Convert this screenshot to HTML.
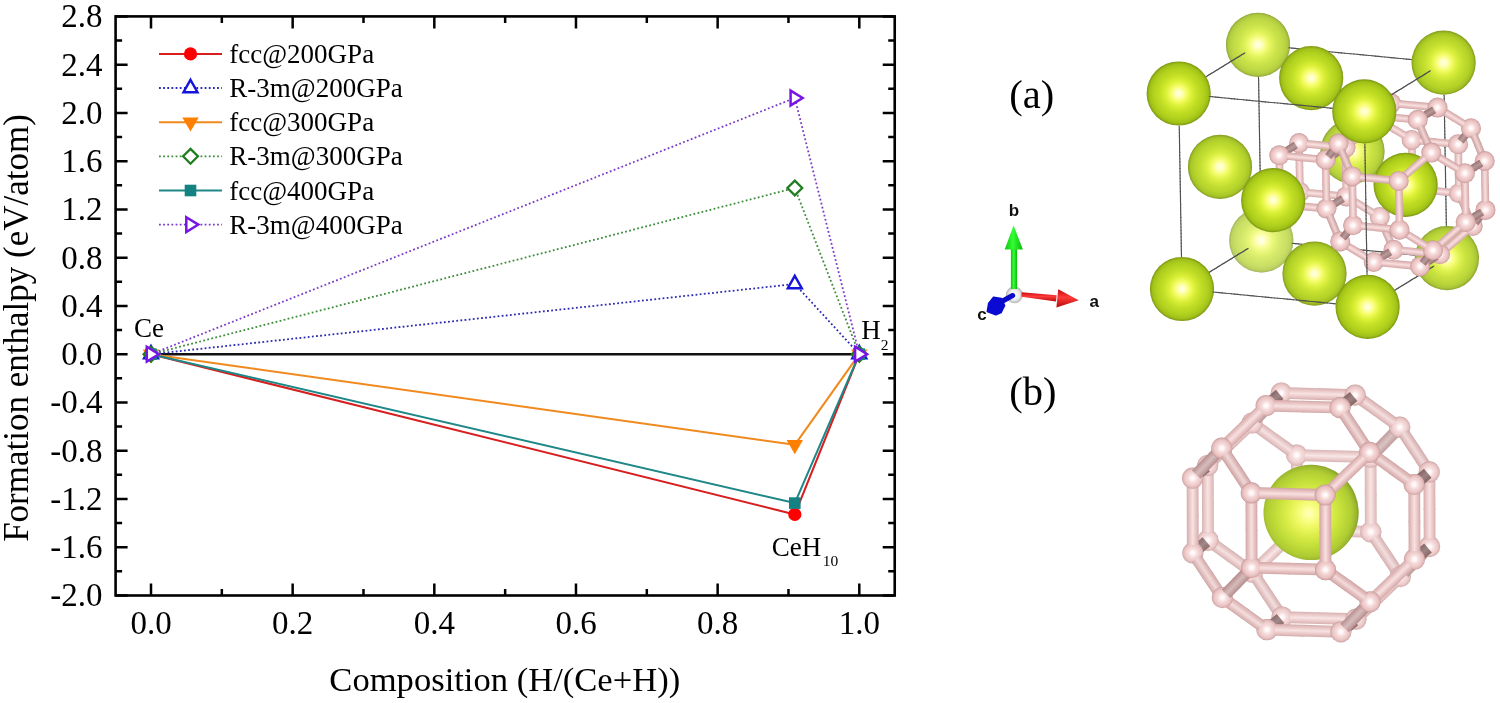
<!DOCTYPE html>
<html><head><meta charset="utf-8"><title>CeH10 formation enthalpy</title>
<style>html,body{margin:0;padding:0;background:#fff}svg{display:block}</style></head>
<body>
<svg width="1500" height="703" viewBox="0 0 1500 703">
<defs>
<radialGradient id="gCe" cx="50%" cy="50%" r="50%">
<stop offset="0" stop-color="#ffffea"/><stop offset="0.11" stop-color="#ffffb8"/><stop offset="0.24" stop-color="#f6fd66"/><stop offset="0.41" stop-color="#d9ef34"/>
<stop offset="0.6" stop-color="#c1de24"/><stop offset="0.8" stop-color="#b0d01c"/><stop offset="0.92" stop-color="#a0c018"/><stop offset="0.975" stop-color="#87a412"/><stop offset="1" stop-color="#7a9416"/>
</radialGradient>
<radialGradient id="gCeB" cx="48%" cy="51%" r="51%">
<stop offset="0" stop-color="#ffffbc"/><stop offset="0.12" stop-color="#fcff86"/><stop offset="0.3" stop-color="#ecf84e"/><stop offset="0.48" stop-color="#d6ea32"/>
<stop offset="0.68" stop-color="#bcdb22"/><stop offset="0.88" stop-color="#a6c61a"/><stop offset="0.97" stop-color="#8fae14"/><stop offset="1" stop-color="#7f9a14"/>
</radialGradient>
<radialGradient id="gH" cx="50%" cy="50%" r="50%">
<stop offset="0" stop-color="#ffffff"/><stop offset="0.18" stop-color="#fff6f6"/><stop offset="0.42" stop-color="#f6d8d8"/>
<stop offset="0.75" stop-color="#eac2c2"/><stop offset="0.9" stop-color="#dcaeae"/><stop offset="0.97" stop-color="#c99c9c"/><stop offset="1" stop-color="#bb9090"/>
</radialGradient>
<linearGradient id="gb0" x1="0" y1="0" x2="0" y2="1"><stop offset="0" stop-color="#977171"/><stop offset="0.12" stop-color="#a27d7d"/><stop offset="0.3" stop-color="#ad8a8a"/><stop offset="0.5" stop-color="#b59b9b"/><stop offset="0.7" stop-color="#ad8a8a"/><stop offset="0.88" stop-color="#a27d7d"/><stop offset="1" stop-color="#977171"/></linearGradient>
<linearGradient id="gb1" x1="0" y1="0" x2="0" y2="1"><stop offset="0" stop-color="#cfa2a2"/><stop offset="0.12" stop-color="#ddb3b3"/><stop offset="0.3" stop-color="#ecc8c8"/><stop offset="0.5" stop-color="#f8e0e0"/><stop offset="0.7" stop-color="#ecc8c8"/><stop offset="0.88" stop-color="#ddb3b3"/><stop offset="1" stop-color="#cfa2a2"/></linearGradient>
<linearGradient id="gb2" x1="0" y1="0" x2="0" y2="1"><stop offset="0" stop-color="#987171"/><stop offset="0.12" stop-color="#a27d7d"/><stop offset="0.3" stop-color="#ad8b8b"/><stop offset="0.5" stop-color="#b69c9c"/><stop offset="0.7" stop-color="#ad8b8b"/><stop offset="0.88" stop-color="#a27d7d"/><stop offset="1" stop-color="#987171"/></linearGradient>
<linearGradient id="gb3" x1="0" y1="0" x2="0" y2="1"><stop offset="0" stop-color="#d0a5a5"/><stop offset="0.12" stop-color="#deb5b5"/><stop offset="0.3" stop-color="#eccaca"/><stop offset="0.5" stop-color="#f8e1e1"/><stop offset="0.7" stop-color="#eccaca"/><stop offset="0.88" stop-color="#deb5b5"/><stop offset="1" stop-color="#d0a5a5"/></linearGradient>
<linearGradient id="gb4" x1="0" y1="0" x2="0" y2="1"><stop offset="0" stop-color="#d0a5a5"/><stop offset="0.12" stop-color="#deb5b5"/><stop offset="0.3" stop-color="#ecc9c9"/><stop offset="0.5" stop-color="#f8e1e1"/><stop offset="0.7" stop-color="#ecc9c9"/><stop offset="0.88" stop-color="#deb5b5"/><stop offset="1" stop-color="#d0a5a5"/></linearGradient>
<linearGradient id="gb5" x1="0" y1="0" x2="0" y2="1"><stop offset="0" stop-color="#d0a5a5"/><stop offset="0.12" stop-color="#deb6b6"/><stop offset="0.3" stop-color="#eccaca"/><stop offset="0.5" stop-color="#f8e1e1"/><stop offset="0.7" stop-color="#eccaca"/><stop offset="0.88" stop-color="#deb6b6"/><stop offset="1" stop-color="#d0a5a5"/></linearGradient>
<linearGradient id="gb6" x1="0" y1="0" x2="0" y2="1"><stop offset="0" stop-color="#987272"/><stop offset="0.12" stop-color="#a37e7e"/><stop offset="0.3" stop-color="#ae8b8b"/><stop offset="0.5" stop-color="#b59c9c"/><stop offset="0.7" stop-color="#ae8b8b"/><stop offset="0.88" stop-color="#a37e7e"/><stop offset="1" stop-color="#987272"/></linearGradient>
<linearGradient id="gb7" x1="0" y1="0" x2="0" y2="1"><stop offset="0" stop-color="#c79a9a"/><stop offset="0.12" stop-color="#d4aaaa"/><stop offset="0.3" stop-color="#e2bebe"/><stop offset="0.5" stop-color="#eed5d5"/><stop offset="0.7" stop-color="#e2bebe"/><stop offset="0.88" stop-color="#d4aaaa"/><stop offset="1" stop-color="#c79a9a"/></linearGradient>
<linearGradient id="gb8" x1="0" y1="0" x2="0" y2="1"><stop offset="0" stop-color="#cfa3a3"/><stop offset="0.12" stop-color="#ddb4b4"/><stop offset="0.3" stop-color="#ecc8c8"/><stop offset="0.5" stop-color="#f8e0e0"/><stop offset="0.7" stop-color="#ecc8c8"/><stop offset="0.88" stop-color="#ddb4b4"/><stop offset="1" stop-color="#cfa3a3"/></linearGradient>
<linearGradient id="gb9" x1="0" y1="0" x2="0" y2="1"><stop offset="0" stop-color="#d1a7a7"/><stop offset="0.12" stop-color="#deb7b7"/><stop offset="0.3" stop-color="#edcbcb"/><stop offset="0.5" stop-color="#f8e1e1"/><stop offset="0.7" stop-color="#edcbcb"/><stop offset="0.88" stop-color="#deb7b7"/><stop offset="1" stop-color="#d1a7a7"/></linearGradient>
<linearGradient id="gb10" x1="0" y1="0" x2="0" y2="1"><stop offset="0" stop-color="#9a7474"/><stop offset="0.12" stop-color="#a47f7f"/><stop offset="0.3" stop-color="#ae8d8d"/><stop offset="0.5" stop-color="#b79e9e"/><stop offset="0.7" stop-color="#ae8d8d"/><stop offset="0.88" stop-color="#a47f7f"/><stop offset="1" stop-color="#9a7474"/></linearGradient>
<linearGradient id="gb11" x1="0" y1="0" x2="0" y2="1"><stop offset="0" stop-color="#d1a6a6"/><stop offset="0.12" stop-color="#deb6b6"/><stop offset="0.3" stop-color="#eccaca"/><stop offset="0.5" stop-color="#f8e1e1"/><stop offset="0.7" stop-color="#eccaca"/><stop offset="0.88" stop-color="#deb6b6"/><stop offset="1" stop-color="#d1a6a6"/></linearGradient>
<linearGradient id="gb12" x1="0" y1="0" x2="0" y2="1"><stop offset="0" stop-color="#d2a8a8"/><stop offset="0.12" stop-color="#dfb8b8"/><stop offset="0.3" stop-color="#edcbcb"/><stop offset="0.5" stop-color="#f8e2e2"/><stop offset="0.7" stop-color="#edcbcb"/><stop offset="0.88" stop-color="#dfb8b8"/><stop offset="1" stop-color="#d2a8a8"/></linearGradient>
<linearGradient id="gb13" x1="0" y1="0" x2="0" y2="1"><stop offset="0" stop-color="#c99f9f"/><stop offset="0.12" stop-color="#d6aeae"/><stop offset="0.3" stop-color="#e3c1c1"/><stop offset="0.5" stop-color="#eed7d7"/><stop offset="0.7" stop-color="#e3c1c1"/><stop offset="0.88" stop-color="#d6aeae"/><stop offset="1" stop-color="#c99f9f"/></linearGradient>
<linearGradient id="gb14" x1="0" y1="0" x2="0" y2="1"><stop offset="0" stop-color="#966f6f"/><stop offset="0.12" stop-color="#a17b7b"/><stop offset="0.3" stop-color="#ac8989"/><stop offset="0.5" stop-color="#b49a9a"/><stop offset="0.7" stop-color="#ac8989"/><stop offset="0.88" stop-color="#a17b7b"/><stop offset="1" stop-color="#966f6f"/></linearGradient>
<linearGradient id="gb15" x1="0" y1="0" x2="0" y2="1"><stop offset="0" stop-color="#d1a7a7"/><stop offset="0.12" stop-color="#dfb7b7"/><stop offset="0.3" stop-color="#edcbcb"/><stop offset="0.5" stop-color="#f8e1e1"/><stop offset="0.7" stop-color="#edcbcb"/><stop offset="0.88" stop-color="#dfb7b7"/><stop offset="1" stop-color="#d1a7a7"/></linearGradient>
<linearGradient id="gb16" x1="0" y1="0" x2="0" y2="1"><stop offset="0" stop-color="#987171"/><stop offset="0.12" stop-color="#a27d7d"/><stop offset="0.3" stop-color="#ad8b8b"/><stop offset="0.5" stop-color="#b59c9c"/><stop offset="0.7" stop-color="#ad8b8b"/><stop offset="0.88" stop-color="#a27d7d"/><stop offset="1" stop-color="#987171"/></linearGradient>
<linearGradient id="gb17" x1="0" y1="0" x2="0" y2="1"><stop offset="0" stop-color="#d0a4a4"/><stop offset="0.12" stop-color="#deb5b5"/><stop offset="0.3" stop-color="#ecc9c9"/><stop offset="0.5" stop-color="#f8e0e0"/><stop offset="0.7" stop-color="#ecc9c9"/><stop offset="0.88" stop-color="#deb5b5"/><stop offset="1" stop-color="#d0a4a4"/></linearGradient>
<linearGradient id="gb18" x1="0" y1="0" x2="0" y2="1"><stop offset="0" stop-color="#c99d9d"/><stop offset="0.12" stop-color="#d5adad"/><stop offset="0.3" stop-color="#e3c0c0"/><stop offset="0.5" stop-color="#eed6d6"/><stop offset="0.7" stop-color="#e3c0c0"/><stop offset="0.88" stop-color="#d5adad"/><stop offset="1" stop-color="#c99d9d"/></linearGradient>
<linearGradient id="gb19" x1="0" y1="0" x2="0" y2="1"><stop offset="0" stop-color="#977070"/><stop offset="0.12" stop-color="#a17c7c"/><stop offset="0.3" stop-color="#ac8a8a"/><stop offset="0.5" stop-color="#b49b9b"/><stop offset="0.7" stop-color="#ac8a8a"/><stop offset="0.88" stop-color="#a17c7c"/><stop offset="1" stop-color="#977070"/></linearGradient>
<linearGradient id="gb20" x1="0" y1="0" x2="0" y2="1"><stop offset="0" stop-color="#d0a4a4"/><stop offset="0.12" stop-color="#ddb4b4"/><stop offset="0.3" stop-color="#ecc9c9"/><stop offset="0.5" stop-color="#f8e0e0"/><stop offset="0.7" stop-color="#ecc9c9"/><stop offset="0.88" stop-color="#ddb4b4"/><stop offset="1" stop-color="#d0a4a4"/></linearGradient>
<linearGradient id="gb21" x1="0" y1="0" x2="0" y2="1"><stop offset="0" stop-color="#997373"/><stop offset="0.12" stop-color="#a37e7e"/><stop offset="0.3" stop-color="#ae8c8c"/><stop offset="0.5" stop-color="#b79d9d"/><stop offset="0.7" stop-color="#ae8c8c"/><stop offset="0.88" stop-color="#a37e7e"/><stop offset="1" stop-color="#997373"/></linearGradient>
<linearGradient id="gb22" x1="0" y1="0" x2="0" y2="1"><stop offset="0" stop-color="#9a7474"/><stop offset="0.12" stop-color="#a48080"/><stop offset="0.3" stop-color="#af8d8d"/><stop offset="0.5" stop-color="#b79e9e"/><stop offset="0.7" stop-color="#af8d8d"/><stop offset="0.88" stop-color="#a48080"/><stop offset="1" stop-color="#9a7474"/></linearGradient>
<linearGradient id="gb23" x1="0" y1="0" x2="0" y2="1"><stop offset="0" stop-color="#cfa3a3"/><stop offset="0.12" stop-color="#ddb4b4"/><stop offset="0.3" stop-color="#ecc9c9"/><stop offset="0.5" stop-color="#f8e0e0"/><stop offset="0.7" stop-color="#ecc9c9"/><stop offset="0.88" stop-color="#ddb4b4"/><stop offset="1" stop-color="#cfa3a3"/></linearGradient>
<linearGradient id="gb24" x1="0" y1="0" x2="0" y2="1"><stop offset="0" stop-color="#997373"/><stop offset="0.12" stop-color="#a37e7e"/><stop offset="0.3" stop-color="#ae8c8c"/><stop offset="0.5" stop-color="#b69d9d"/><stop offset="0.7" stop-color="#ae8c8c"/><stop offset="0.88" stop-color="#a37e7e"/><stop offset="1" stop-color="#997373"/></linearGradient>
<linearGradient id="gb25" x1="0" y1="0" x2="0" y2="1"><stop offset="0" stop-color="#8b6d6d"/><stop offset="0.12" stop-color="#927575"/><stop offset="0.3" stop-color="#9a7e7e"/><stop offset="0.5" stop-color="#a08a8a"/><stop offset="0.7" stop-color="#9a7e7e"/><stop offset="0.88" stop-color="#927575"/><stop offset="1" stop-color="#8b6d6d"/></linearGradient>
<linearGradient id="gb26" x1="0" y1="0" x2="0" y2="1"><stop offset="0" stop-color="#d6b0b0"/><stop offset="0.12" stop-color="#e2bfbf"/><stop offset="0.3" stop-color="#efd0d0"/><stop offset="0.5" stop-color="#f9e4e4"/><stop offset="0.7" stop-color="#efd0d0"/><stop offset="0.88" stop-color="#e2bfbf"/><stop offset="1" stop-color="#d6b0b0"/></linearGradient>
<linearGradient id="gb27" x1="0" y1="0" x2="0" y2="1"><stop offset="0" stop-color="#d4afaf"/><stop offset="0.12" stop-color="#dfbdbd"/><stop offset="0.3" stop-color="#ebcdcd"/><stop offset="0.5" stop-color="#f5e1e1"/><stop offset="0.7" stop-color="#ebcdcd"/><stop offset="0.88" stop-color="#dfbdbd"/><stop offset="1" stop-color="#d4afaf"/></linearGradient>
<linearGradient id="gb28" x1="0" y1="0" x2="0" y2="1"><stop offset="0" stop-color="#d3abab"/><stop offset="0.12" stop-color="#e0baba"/><stop offset="0.3" stop-color="#edcdcd"/><stop offset="0.5" stop-color="#f8e3e3"/><stop offset="0.7" stop-color="#edcdcd"/><stop offset="0.88" stop-color="#e0baba"/><stop offset="1" stop-color="#d3abab"/></linearGradient>
<linearGradient id="gb29" x1="0" y1="0" x2="0" y2="1"><stop offset="0" stop-color="#cca3a3"/><stop offset="0.12" stop-color="#d8b3b3"/><stop offset="0.3" stop-color="#e6c5c5"/><stop offset="0.5" stop-color="#f1dada"/><stop offset="0.7" stop-color="#e6c5c5"/><stop offset="0.88" stop-color="#d8b3b3"/><stop offset="1" stop-color="#cca3a3"/></linearGradient>
<linearGradient id="gb30" x1="0" y1="0" x2="0" y2="1"><stop offset="0" stop-color="#8a6b6b"/><stop offset="0.12" stop-color="#917373"/><stop offset="0.3" stop-color="#997d7d"/><stop offset="0.5" stop-color="#9f8888"/><stop offset="0.7" stop-color="#997d7d"/><stop offset="0.88" stop-color="#917373"/><stop offset="1" stop-color="#8a6b6b"/></linearGradient>
<linearGradient id="gb31" x1="0" y1="0" x2="0" y2="1"><stop offset="0" stop-color="#d6b1b1"/><stop offset="0.12" stop-color="#e2bfbf"/><stop offset="0.3" stop-color="#efd1d1"/><stop offset="0.5" stop-color="#f9e5e5"/><stop offset="0.7" stop-color="#efd1d1"/><stop offset="0.88" stop-color="#e2bfbf"/><stop offset="1" stop-color="#d6b1b1"/></linearGradient>
<linearGradient id="gb32" x1="0" y1="0" x2="0" y2="1"><stop offset="0" stop-color="#b48d8d"/><stop offset="0.12" stop-color="#bf9a9a"/><stop offset="0.3" stop-color="#cbabab"/><stop offset="0.5" stop-color="#d5bdbd"/><stop offset="0.7" stop-color="#cbabab"/><stop offset="0.88" stop-color="#bf9a9a"/><stop offset="1" stop-color="#b48d8d"/></linearGradient>
<linearGradient id="gb33" x1="0" y1="0" x2="0" y2="1"><stop offset="0" stop-color="#d1acac"/><stop offset="0.12" stop-color="#dcbaba"/><stop offset="0.3" stop-color="#e8cbcb"/><stop offset="0.5" stop-color="#f2dede"/><stop offset="0.7" stop-color="#e8cbcb"/><stop offset="0.88" stop-color="#dcbaba"/><stop offset="1" stop-color="#d1acac"/></linearGradient>
<linearGradient id="gb34" x1="0" y1="0" x2="0" y2="1"><stop offset="0" stop-color="#d8b5b5"/><stop offset="0.12" stop-color="#e3c2c2"/><stop offset="0.3" stop-color="#efd3d3"/><stop offset="0.5" stop-color="#f9e6e6"/><stop offset="0.7" stop-color="#efd3d3"/><stop offset="0.88" stop-color="#e3c2c2"/><stop offset="1" stop-color="#d8b5b5"/></linearGradient>
<linearGradient id="gb35" x1="0" y1="0" x2="0" y2="1"><stop offset="0" stop-color="#cfa6a6"/><stop offset="0.12" stop-color="#dcb5b5"/><stop offset="0.3" stop-color="#e9c8c8"/><stop offset="0.5" stop-color="#f4dede"/><stop offset="0.7" stop-color="#e9c8c8"/><stop offset="0.88" stop-color="#dcb5b5"/><stop offset="1" stop-color="#cfa6a6"/></linearGradient>
<linearGradient id="gb36" x1="0" y1="0" x2="0" y2="1"><stop offset="0" stop-color="#b38b8b"/><stop offset="0.12" stop-color="#be9898"/><stop offset="0.3" stop-color="#caa9a9"/><stop offset="0.5" stop-color="#d4bbbb"/><stop offset="0.7" stop-color="#caa9a9"/><stop offset="0.88" stop-color="#be9898"/><stop offset="1" stop-color="#b38b8b"/></linearGradient>
<linearGradient id="gb37" x1="0" y1="0" x2="0" y2="1"><stop offset="0" stop-color="#d4b0b0"/><stop offset="0.12" stop-color="#e0bebe"/><stop offset="0.3" stop-color="#ebcece"/><stop offset="0.5" stop-color="#f5e1e1"/><stop offset="0.7" stop-color="#ebcece"/><stop offset="0.88" stop-color="#e0bebe"/><stop offset="1" stop-color="#d4b0b0"/></linearGradient>
<linearGradient id="gb38" x1="0" y1="0" x2="0" y2="1"><stop offset="0" stop-color="#bb9797"/><stop offset="0.12" stop-color="#c5a3a3"/><stop offset="0.3" stop-color="#d0b2b2"/><stop offset="0.5" stop-color="#d8c2c2"/><stop offset="0.7" stop-color="#d0b2b2"/><stop offset="0.88" stop-color="#c5a3a3"/><stop offset="1" stop-color="#bb9797"/></linearGradient>
<linearGradient id="gb39" x1="0" y1="0" x2="0" y2="1"><stop offset="0" stop-color="#c99e9e"/><stop offset="0.12" stop-color="#d6aeae"/><stop offset="0.3" stop-color="#e4c2c2"/><stop offset="0.5" stop-color="#f0d8d8"/><stop offset="0.7" stop-color="#e4c2c2"/><stop offset="0.88" stop-color="#d6aeae"/><stop offset="1" stop-color="#c99e9e"/></linearGradient>
<linearGradient id="gb40" x1="0" y1="0" x2="0" y2="1"><stop offset="0" stop-color="#8b6d6d"/><stop offset="0.12" stop-color="#927575"/><stop offset="0.3" stop-color="#9a7e7e"/><stop offset="0.5" stop-color="#a08989"/><stop offset="0.7" stop-color="#9a7e7e"/><stop offset="0.88" stop-color="#927575"/><stop offset="1" stop-color="#8b6d6d"/></linearGradient>
<linearGradient id="gb41" x1="0" y1="0" x2="0" y2="1"><stop offset="0" stop-color="#d6b0b0"/><stop offset="0.12" stop-color="#e2bebe"/><stop offset="0.3" stop-color="#eed0d0"/><stop offset="0.5" stop-color="#f9e4e4"/><stop offset="0.7" stop-color="#eed0d0"/><stop offset="0.88" stop-color="#e2bebe"/><stop offset="1" stop-color="#d6b0b0"/></linearGradient>
<linearGradient id="gb42" x1="0" y1="0" x2="0" y2="1"><stop offset="0" stop-color="#d3aaaa"/><stop offset="0.12" stop-color="#e0baba"/><stop offset="0.3" stop-color="#edcdcd"/><stop offset="0.5" stop-color="#f8e2e2"/><stop offset="0.7" stop-color="#edcdcd"/><stop offset="0.88" stop-color="#e0baba"/><stop offset="1" stop-color="#d3aaaa"/></linearGradient>
<linearGradient id="gb43" x1="0" y1="0" x2="0" y2="1"><stop offset="0" stop-color="#d9b5b5"/><stop offset="0.12" stop-color="#e4c2c2"/><stop offset="0.3" stop-color="#efd3d3"/><stop offset="0.5" stop-color="#f9e6e6"/><stop offset="0.7" stop-color="#efd3d3"/><stop offset="0.88" stop-color="#e4c2c2"/><stop offset="1" stop-color="#d9b5b5"/></linearGradient>
<linearGradient id="gb44" x1="0" y1="0" x2="0" y2="1"><stop offset="0" stop-color="#d8b5b5"/><stop offset="0.12" stop-color="#e4c2c2"/><stop offset="0.3" stop-color="#efd3d3"/><stop offset="0.5" stop-color="#f9e6e6"/><stop offset="0.7" stop-color="#efd3d3"/><stop offset="0.88" stop-color="#e4c2c2"/><stop offset="1" stop-color="#d8b5b5"/></linearGradient>
<linearGradient id="gb45" x1="0" y1="0" x2="0" y2="1"><stop offset="0" stop-color="#d8b4b4"/><stop offset="0.12" stop-color="#e3c1c1"/><stop offset="0.3" stop-color="#efd2d2"/><stop offset="0.5" stop-color="#f9e6e6"/><stop offset="0.7" stop-color="#efd2d2"/><stop offset="0.88" stop-color="#e3c1c1"/><stop offset="1" stop-color="#d8b4b4"/></linearGradient>
<linearGradient id="gb46" x1="0" y1="0" x2="0" y2="1"><stop offset="0" stop-color="#cfa3a3"/><stop offset="0.12" stop-color="#ddb3b3"/><stop offset="0.3" stop-color="#ecc8c8"/><stop offset="0.5" stop-color="#f8e0e0"/><stop offset="0.7" stop-color="#ecc8c8"/><stop offset="0.88" stop-color="#ddb3b3"/><stop offset="1" stop-color="#cfa3a3"/></linearGradient>
<linearGradient id="gb47" x1="0" y1="0" x2="0" y2="1"><stop offset="0" stop-color="#876767"/><stop offset="0.12" stop-color="#8e6f6f"/><stop offset="0.3" stop-color="#967979"/><stop offset="0.5" stop-color="#9c8585"/><stop offset="0.7" stop-color="#967979"/><stop offset="0.88" stop-color="#8e6f6f"/><stop offset="1" stop-color="#876767"/></linearGradient>
<linearGradient id="gb48" x1="0" y1="0" x2="0" y2="1"><stop offset="0" stop-color="#d4adad"/><stop offset="0.12" stop-color="#e1bcbc"/><stop offset="0.3" stop-color="#eecece"/><stop offset="0.5" stop-color="#f8e3e3"/><stop offset="0.7" stop-color="#eecece"/><stop offset="0.88" stop-color="#e1bcbc"/><stop offset="1" stop-color="#d4adad"/></linearGradient>
<linearGradient id="gb49" x1="0" y1="0" x2="0" y2="1"><stop offset="0" stop-color="#d2a7a7"/><stop offset="0.12" stop-color="#dfb7b7"/><stop offset="0.3" stop-color="#edcbcb"/><stop offset="0.5" stop-color="#f8e1e1"/><stop offset="0.7" stop-color="#edcbcb"/><stop offset="0.88" stop-color="#dfb7b7"/><stop offset="1" stop-color="#d2a7a7"/></linearGradient>
<linearGradient id="gb50" x1="0" y1="0" x2="0" y2="1"><stop offset="0" stop-color="#896b6b"/><stop offset="0.12" stop-color="#907373"/><stop offset="0.3" stop-color="#987c7c"/><stop offset="0.5" stop-color="#9f8888"/><stop offset="0.7" stop-color="#987c7c"/><stop offset="0.88" stop-color="#907373"/><stop offset="1" stop-color="#896b6b"/></linearGradient>
<linearGradient id="gb51" x1="0" y1="0" x2="0" y2="1"><stop offset="0" stop-color="#b48d8d"/><stop offset="0.12" stop-color="#bf9a9a"/><stop offset="0.3" stop-color="#cbabab"/><stop offset="0.5" stop-color="#d5bcbc"/><stop offset="0.7" stop-color="#cbabab"/><stop offset="0.88" stop-color="#bf9a9a"/><stop offset="1" stop-color="#b48d8d"/></linearGradient>
<linearGradient id="gb52" x1="0" y1="0" x2="0" y2="1"><stop offset="0" stop-color="#d2adad"/><stop offset="0.12" stop-color="#dcbbbb"/><stop offset="0.3" stop-color="#e9cbcb"/><stop offset="0.5" stop-color="#f2dede"/><stop offset="0.7" stop-color="#e9cbcb"/><stop offset="0.88" stop-color="#dcbbbb"/><stop offset="1" stop-color="#d2adad"/></linearGradient>
<linearGradient id="gb53" x1="0" y1="0" x2="0" y2="1"><stop offset="0" stop-color="#cca1a1"/><stop offset="0.12" stop-color="#dab1b1"/><stop offset="0.3" stop-color="#e7c4c4"/><stop offset="0.5" stop-color="#f3dcdc"/><stop offset="0.7" stop-color="#e7c4c4"/><stop offset="0.88" stop-color="#dab1b1"/><stop offset="1" stop-color="#cca1a1"/></linearGradient>
<linearGradient id="gb54" x1="0" y1="0" x2="0" y2="1"><stop offset="0" stop-color="#bc9999"/><stop offset="0.12" stop-color="#c6a5a5"/><stop offset="0.3" stop-color="#d1b4b4"/><stop offset="0.5" stop-color="#d9c4c4"/><stop offset="0.7" stop-color="#d1b4b4"/><stop offset="0.88" stop-color="#c6a5a5"/><stop offset="1" stop-color="#bc9999"/></linearGradient>
<linearGradient id="gb55" x1="0" y1="0" x2="0" y2="1"><stop offset="0" stop-color="#856565"/><stop offset="0.12" stop-color="#8c6d6d"/><stop offset="0.3" stop-color="#957777"/><stop offset="0.5" stop-color="#9b8383"/><stop offset="0.7" stop-color="#957777"/><stop offset="0.88" stop-color="#8c6d6d"/><stop offset="1" stop-color="#856565"/></linearGradient>
<linearGradient id="gb56" x1="0" y1="0" x2="0" y2="1"><stop offset="0" stop-color="#d1aaaa"/><stop offset="0.12" stop-color="#deb9b9"/><stop offset="0.3" stop-color="#eacaca"/><stop offset="0.5" stop-color="#f4dfdf"/><stop offset="0.7" stop-color="#eacaca"/><stop offset="0.88" stop-color="#deb9b9"/><stop offset="1" stop-color="#d1aaaa"/></linearGradient>
<linearGradient id="gb57" x1="0" y1="0" x2="0" y2="1"><stop offset="0" stop-color="#ca9f9f"/><stop offset="0.12" stop-color="#d6afaf"/><stop offset="0.3" stop-color="#e5c2c2"/><stop offset="0.5" stop-color="#f0d8d8"/><stop offset="0.7" stop-color="#e5c2c2"/><stop offset="0.88" stop-color="#d6afaf"/><stop offset="1" stop-color="#ca9f9f"/></linearGradient>
<linearGradient id="gb58" x1="0" y1="0" x2="0" y2="1"><stop offset="0" stop-color="#ba9797"/><stop offset="0.12" stop-color="#c5a3a3"/><stop offset="0.3" stop-color="#d0b2b2"/><stop offset="0.5" stop-color="#d8c2c2"/><stop offset="0.7" stop-color="#d0b2b2"/><stop offset="0.88" stop-color="#c5a3a3"/><stop offset="1" stop-color="#ba9797"/></linearGradient>
<linearGradient id="gb59" x1="0" y1="0" x2="0" y2="1"><stop offset="0" stop-color="#cfa8a8"/><stop offset="0.12" stop-color="#dab6b6"/><stop offset="0.3" stop-color="#e7c8c8"/><stop offset="0.5" stop-color="#f1dcdc"/><stop offset="0.7" stop-color="#e7c8c8"/><stop offset="0.88" stop-color="#dab6b6"/><stop offset="1" stop-color="#cfa8a8"/></linearGradient>
<linearGradient id="gb60" x1="0" y1="0" x2="0" y2="1"><stop offset="0" stop-color="#cda1a1"/><stop offset="0.12" stop-color="#dab2b2"/><stop offset="0.3" stop-color="#e7c5c5"/><stop offset="0.5" stop-color="#f3dcdc"/><stop offset="0.7" stop-color="#e7c5c5"/><stop offset="0.88" stop-color="#dab2b2"/><stop offset="1" stop-color="#cda1a1"/></linearGradient>
<linearGradient id="gb61" x1="0" y1="0" x2="0" y2="1"><stop offset="0" stop-color="#866767"/><stop offset="0.12" stop-color="#8e6f6f"/><stop offset="0.3" stop-color="#967979"/><stop offset="0.5" stop-color="#9c8585"/><stop offset="0.7" stop-color="#967979"/><stop offset="0.88" stop-color="#8e6f6f"/><stop offset="1" stop-color="#866767"/></linearGradient>
<linearGradient id="gb62" x1="0" y1="0" x2="0" y2="1"><stop offset="0" stop-color="#856565"/><stop offset="0.12" stop-color="#8c6d6d"/><stop offset="0.3" stop-color="#947777"/><stop offset="0.5" stop-color="#9b8383"/><stop offset="0.7" stop-color="#947777"/><stop offset="0.88" stop-color="#8c6d6d"/><stop offset="1" stop-color="#856565"/></linearGradient></defs>
<rect width="1500" height="703" fill="#fff"/>
<g font-family="'Liberation Serif','Times New Roman',serif" fill="#000">
<rect x="115.59" y="16.40" width="779.13" height="579.10" fill="none" stroke="#000" stroke-width="2.6"/>
<path d="M115.59 16.40h12 M894.72 16.40h-12 M115.59 40.53h6.5 M894.72 40.53h-6.5 M115.59 64.66h12 M894.72 64.66h-12 M115.59 88.79h6.5 M894.72 88.79h-6.5 M115.59 112.92h12 M894.72 112.92h-12 M115.59 137.05h6.5 M894.72 137.05h-6.5 M115.59 161.18h12 M894.72 161.18h-12 M115.59 185.30h6.5 M894.72 185.30h-6.5 M115.59 209.43h12 M894.72 209.43h-12 M115.59 233.56h6.5 M894.72 233.56h-6.5 M115.59 257.69h12 M894.72 257.69h-12 M115.59 281.82h6.5 M894.72 281.82h-6.5 M115.59 305.95h12 M894.72 305.95h-12 M115.59 330.08h6.5 M894.72 330.08h-6.5 M115.59 354.21h12 M894.72 354.21h-12 M115.59 378.34h6.5 M894.72 378.34h-6.5 M115.59 402.47h12 M894.72 402.47h-12 M115.59 426.60h6.5 M894.72 426.60h-6.5 M115.59 450.73h12 M894.72 450.73h-12 M115.59 474.85h6.5 M894.72 474.85h-6.5 M115.59 498.98h12 M894.72 498.98h-12 M115.59 523.11h6.5 M894.72 523.11h-6.5 M115.59 547.24h12 M894.72 547.24h-12 M115.59 571.37h6.5 M894.72 571.37h-6.5 M115.59 595.50h12 M894.72 595.50h-12 M151.00 16.40v12 M151.00 595.50v-12 M221.83 16.40v6.5 M221.83 595.50v-6.5 M292.66 16.40v12 M292.66 595.50v-12 M363.49 16.40v6.5 M363.49 595.50v-6.5 M434.32 16.40v12 M434.32 595.50v-12 M505.15 16.40v6.5 M505.15 595.50v-6.5 M575.98 16.40v12 M575.98 595.50v-12 M646.81 16.40v6.5 M646.81 595.50v-6.5 M717.64 16.40v12 M717.64 595.50v-12 M788.47 16.40v6.5 M788.47 595.50v-6.5 M859.30 16.40v12 M859.30 595.50v-12" stroke="#000" stroke-width="2.5" fill="none"/>
<g font-size="33" text-anchor="end">
<text x="102.5" y="27.2">2.8</text>
<text x="102.5" y="75.5">2.4</text>
<text x="102.5" y="123.7">2.0</text>
<text x="102.5" y="172.0">1.6</text>
<text x="102.5" y="220.2">1.2</text>
<text x="102.5" y="268.5">0.8</text>
<text x="102.5" y="316.8">0.4</text>
<text x="102.5" y="365.0">0.0</text>
<text x="102.5" y="413.3">-0.4</text>
<text x="102.5" y="461.5">-0.8</text>
<text x="102.5" y="509.8">-1.2</text>
<text x="102.5" y="558.0">-1.6</text>
<text x="102.5" y="606.3">-2.0</text>
</g>
<g font-size="33" text-anchor="middle">
<text x="151.0" y="634.3">0.0</text>
<text x="292.7" y="634.3">0.2</text>
<text x="434.3" y="634.3">0.4</text>
<text x="576.0" y="634.3">0.6</text>
<text x="717.6" y="634.3">0.8</text>
<text x="859.3" y="634.3">1.0</text>
</g>
<text x="504.8" y="691.4" font-size="34.6" text-anchor="middle">Composition (H/(Ce+H))</text>
<text transform="translate(28.3 328) rotate(-90)" font-size="35" text-anchor="middle">Formation enthalpy (eV/atom)</text>
<line x1="161" y1="354.21" x2="852" y2="354.21" stroke="#111" stroke-width="2.5"/>
<polyline points="151.0,354.2 794.8,514.4 859.3,354.2" fill="none" stroke="#d81e1e" stroke-width="2.05" stroke-linejoin="round"/>
<circle cx="151.0" cy="354.2" r="6.6" fill="#ff0000"/>
<circle cx="794.8" cy="514.4" r="6.6" fill="#ff0000"/>
<circle cx="859.3" cy="354.2" r="6.6" fill="#ff0000"/>
<line x1="159" y1="53.9" x2="222" y2="53.9" stroke="#d81e1e" stroke-width="2.05"/>
<circle cx="190.5" cy="53.9" r="6.6" fill="#ff0000"/>
<text x="229.3" y="63.0" font-size="27">fcc@200GPa</text>
<polyline points="151.0,354.2 794.8,284.0 859.3,354.2" fill="none" stroke="#2a2ab4" stroke-width="1.8" stroke-dasharray="1.8 2.35" stroke-linejoin="round"/>
<path d="M151.0 346.0l7 12.4h-14z" fill="#fff" stroke="#1414dc" stroke-width="2.4" stroke-linejoin="miter"/>
<path d="M794.8 275.8l7 12.4h-14z" fill="#fff" stroke="#1414dc" stroke-width="2.4" stroke-linejoin="miter"/>
<path d="M859.3 346.0l7 12.4h-14z" fill="#fff" stroke="#1414dc" stroke-width="2.4" stroke-linejoin="miter"/>
<line x1="159" y1="88.0" x2="222" y2="88.0" stroke="#2a2ab4" stroke-width="1.8" stroke-dasharray="1.8 2.35"/>
<path d="M190.5 79.8l7 12.4h-14z" fill="#fff" stroke="#1414dc" stroke-width="2.4" stroke-linejoin="miter"/>
<text x="229.3" y="97.1" font-size="27">R-3m@200GPa</text>
<polyline points="151.0,354.2 794.8,444.8 859.3,354.2" fill="none" stroke="#f08a1e" stroke-width="2.05" stroke-linejoin="round"/>
<path d="M142.8 349.4h16.4l-8.2 14.2z" fill="#ff8000"/>
<path d="M786.6 440.0h16.4l-8.2 14.2z" fill="#ff8000"/>
<path d="M851.1 349.4h16.4l-8.2 14.2z" fill="#ff8000"/>
<line x1="159" y1="122.2" x2="222" y2="122.2" stroke="#f08a1e" stroke-width="2.05"/>
<path d="M182.3 117.4h16.4l-8.2 14.2z" fill="#ff8000"/>
<text x="229.3" y="131.3" font-size="27">fcc@300GPa</text>
<polyline points="151.0,354.2 794.8,188.0 859.3,354.2" fill="none" stroke="#3c8c3c" stroke-width="1.8" stroke-dasharray="1.8 2.35" stroke-linejoin="round"/>
<path d="M151.0 346.8l7.4 7.4l-7.4 7.4l-7.4 -7.4z" fill="#fff" stroke="#1e7d1e" stroke-width="2.3"/>
<path d="M794.8 180.6l7.4 7.4l-7.4 7.4l-7.4 -7.4z" fill="#fff" stroke="#1e7d1e" stroke-width="2.3"/>
<path d="M859.3 346.8l7.4 7.4l-7.4 7.4l-7.4 -7.4z" fill="#fff" stroke="#1e7d1e" stroke-width="2.3"/>
<line x1="159" y1="156.3" x2="222" y2="156.3" stroke="#3c8c3c" stroke-width="1.8" stroke-dasharray="1.8 2.35"/>
<path d="M190.5 148.9l7.4 7.4l-7.4 7.4l-7.4 -7.4z" fill="#fff" stroke="#1e7d1e" stroke-width="2.3"/>
<text x="229.3" y="165.4" font-size="27">R-3m@300GPa</text>
<polyline points="151.0,354.2 794.8,503.1 859.3,354.2" fill="none" stroke="#1e8787" stroke-width="2.05" stroke-linejoin="round"/>
<rect x="145.2" y="348.4" width="11.6" height="11.6" fill="#148282"/>
<rect x="789.0" y="497.3" width="11.6" height="11.6" fill="#148282"/>
<rect x="853.5" y="348.4" width="11.6" height="11.6" fill="#148282"/>
<line x1="159" y1="190.5" x2="222" y2="190.5" stroke="#1e8787" stroke-width="2.05"/>
<rect x="184.7" y="184.7" width="11.6" height="11.6" fill="#148282"/>
<text x="229.3" y="199.6" font-size="27">fcc@400GPa</text>
<polyline points="151.0,354.2 794.8,98.0 859.3,354.2" fill="none" stroke="#7a3cc8" stroke-width="1.8" stroke-dasharray="1.8 2.35" stroke-linejoin="round"/>
<path d="M146.8 346.8l12 7.4l-12 7.4z" fill="#fff" stroke="#7814e6" stroke-width="2.5" stroke-linejoin="miter"/>
<path d="M790.6 90.6l12 7.4l-12 7.4z" fill="#fff" stroke="#7814e6" stroke-width="2.5" stroke-linejoin="miter"/>
<path d="M855.1 346.8l12 7.4l-12 7.4z" fill="#fff" stroke="#7814e6" stroke-width="2.5" stroke-linejoin="miter"/>
<line x1="159" y1="224.7" x2="222" y2="224.7" stroke="#7a3cc8" stroke-width="1.8" stroke-dasharray="1.8 2.35"/>
<path d="M186.3 217.2l12 7.4l-12 7.4z" fill="#fff" stroke="#7814e6" stroke-width="2.5" stroke-linejoin="miter"/>
<text x="229.3" y="233.8" font-size="27">R-3m@400GPa</text>
<text x="134" y="337.2" font-size="27">Ce</text>
<text x="861.3" y="338.7" font-size="27">H<tspan font-size="15.5" dy="10.8">2</tspan></text>
<text x="771.7" y="555.9" font-size="27">CeH<tspan font-size="15.5" dx="1.5" dy="10.2">10</tspan></text>
<text x="1009.3" y="107.8" font-size="40.5">(a)</text>
<text x="1009.3" y="404.8" font-size="40.5">(b)</text>
</g>
<g id="compass"><linearGradient id="gGr" x1="0" x2="1"><stop offset="0" stop-color="#0fc20f"/><stop offset="0.45" stop-color="#33ff33"/><stop offset="1" stop-color="#0ab80a"/></linearGradient>
<linearGradient id="gRd" x1="0" x2="0" y1="0" y2="1"><stop offset="0" stop-color="#c40a0a"/><stop offset="0.45" stop-color="#ff3a3a"/><stop offset="1" stop-color="#b80808"/></linearGradient>
<radialGradient id="gWh" cx="50%" cy="50%" r="50%"><stop offset="0" stop-color="#ffffff"/><stop offset="0.6" stop-color="#ececec"/><stop offset="0.9" stop-color="#c4c4c4"/><stop offset="1" stop-color="#a0a0a0"/></radialGradient>
<circle cx="1014.3" cy="294.9" r="8.4" fill="url(#gWh)"/>
<rect x="1010.9" y="249" width="6.2" height="40" fill="url(#gGr)"/>
<path d="M1013.6 225.4L1022.9 249.6L1004.7 249.6Z" fill="url(#gGr)"/>
<path d="M1021.7 292.2L1056.7 295.2L1056.0 301.6L1021.3 296.8Z" fill="url(#gRd)"/>
<path d="M1058.2 289.3L1078.8 300.2L1056.4 307.5Z" fill="url(#gRd)"/>
<line x1="1012.6" y1="295.6" x2="1000" y2="302.6" stroke="#0a0ac8" stroke-width="5.2" stroke-linecap="round"/>
<path d="M993.5 297.2 L1001.5 298.6 L1004.6 305.5 L1001.2 312.5 L995.8 314.9 L987.3 311.6 L988.6 303.5 Z" fill="#0a0ad2" stroke="#0a0ad2" stroke-width="1.5" stroke-linejoin="round"/>
<g font-family="'Liberation Sans',Arial,sans-serif" font-weight="bold" font-size="17" fill="#111" text-anchor="middle">
<text x="1014" y="216.4">b</text><text x="1094.3" y="306.5">a</text><text x="982" y="319.8">c</text></g></g>
<g id="structA"><circle cx="1261.3" cy="240.3" r="32.1" fill="url(#gCe)"/><circle cx="1261.3" cy="240.3" r="32.1" fill="#fff" fill-opacity="0.32"/>
<line x1="1260.7" y1="204.5" x2="1260.8" y2="207.7" stroke="#505050" stroke-width="1.15" stroke-linecap="round"/>
<line x1="1260.6" y1="201.2" x2="1260.7" y2="204.5" stroke="#505050" stroke-width="1.15" stroke-linecap="round"/>
<line x1="1260.6" y1="197.9" x2="1260.6" y2="201.2" stroke="#505050" stroke-width="1.15" stroke-linecap="round"/>
<line x1="1260.5" y1="194.7" x2="1260.6" y2="197.9" stroke="#505050" stroke-width="1.15" stroke-linecap="round"/>
<line x1="1260.5" y1="191.4" x2="1260.5" y2="194.7" stroke="#505050" stroke-width="1.15" stroke-linecap="round"/>
<line x1="1260.4" y1="188.2" x2="1260.5" y2="191.4" stroke="#505050" stroke-width="1.15" stroke-linecap="round"/>
<line x1="1292.2" y1="243.3" x2="1295.3" y2="243.6" stroke="#505050" stroke-width="1.15" stroke-linecap="round"/>
<line x1="1260.4" y1="184.9" x2="1260.4" y2="188.2" stroke="#505050" stroke-width="1.15" stroke-linecap="round"/>
<line x1="1260.3" y1="181.6" x2="1260.4" y2="184.9" stroke="#505050" stroke-width="1.15" stroke-linecap="round"/>
<line x1="1295.3" y1="243.6" x2="1298.4" y2="243.9" stroke="#505050" stroke-width="1.15" stroke-linecap="round"/>
<line x1="1260.3" y1="178.4" x2="1260.3" y2="181.6" stroke="#505050" stroke-width="1.15" stroke-linecap="round"/>
<line x1="1298.4" y1="243.9" x2="1301.5" y2="244.2" stroke="#505050" stroke-width="1.15" stroke-linecap="round"/>
<line x1="1260.2" y1="175.1" x2="1260.3" y2="178.4" stroke="#505050" stroke-width="1.15" stroke-linecap="round"/>
<line x1="1260.1" y1="171.9" x2="1260.2" y2="175.1" stroke="#505050" stroke-width="1.15" stroke-linecap="round"/>
<line x1="1301.5" y1="244.2" x2="1304.6" y2="244.5" stroke="#505050" stroke-width="1.15" stroke-linecap="round"/>
<line x1="1260.1" y1="168.6" x2="1260.1" y2="171.9" stroke="#505050" stroke-width="1.15" stroke-linecap="round"/>
<line x1="1304.6" y1="244.5" x2="1307.7" y2="244.8" stroke="#505050" stroke-width="1.15" stroke-linecap="round"/>
<line x1="1260.0" y1="165.4" x2="1260.1" y2="168.6" stroke="#505050" stroke-width="1.15" stroke-linecap="round"/>
<line x1="1260.0" y1="162.1" x2="1260.0" y2="165.4" stroke="#505050" stroke-width="1.15" stroke-linecap="round"/>
<line x1="1307.7" y1="244.8" x2="1310.8" y2="245.1" stroke="#505050" stroke-width="1.15" stroke-linecap="round"/>
<line x1="1259.9" y1="158.8" x2="1260.0" y2="162.1" stroke="#505050" stroke-width="1.15" stroke-linecap="round"/>
<line x1="1310.8" y1="245.1" x2="1313.9" y2="245.4" stroke="#505050" stroke-width="1.15" stroke-linecap="round"/>
<line x1="1259.9" y1="155.6" x2="1259.9" y2="158.8" stroke="#505050" stroke-width="1.15" stroke-linecap="round"/>
<line x1="1259.8" y1="152.3" x2="1259.9" y2="155.6" stroke="#505050" stroke-width="1.15" stroke-linecap="round"/>
<line x1="1313.9" y1="245.4" x2="1317.0" y2="245.7" stroke="#505050" stroke-width="1.15" stroke-linecap="round"/>
<line x1="1259.8" y1="149.1" x2="1259.8" y2="152.3" stroke="#505050" stroke-width="1.15" stroke-linecap="round"/>
<line x1="1317.0" y1="245.7" x2="1320.1" y2="246.0" stroke="#505050" stroke-width="1.15" stroke-linecap="round"/>
<line x1="1259.7" y1="145.8" x2="1259.8" y2="149.1" stroke="#505050" stroke-width="1.15" stroke-linecap="round"/>
<line x1="1259.7" y1="142.6" x2="1259.7" y2="145.8" stroke="#505050" stroke-width="1.15" stroke-linecap="round"/>
<line x1="1320.1" y1="246.0" x2="1323.2" y2="246.3" stroke="#505050" stroke-width="1.15" stroke-linecap="round"/>
<line x1="1259.6" y1="139.3" x2="1259.7" y2="142.6" stroke="#505050" stroke-width="1.15" stroke-linecap="round"/>
<line x1="1323.2" y1="246.3" x2="1326.3" y2="246.6" stroke="#505050" stroke-width="1.15" stroke-linecap="round"/>
<line x1="1259.5" y1="136.0" x2="1259.6" y2="139.3" stroke="#505050" stroke-width="1.15" stroke-linecap="round"/>
<line x1="1259.5" y1="132.8" x2="1259.5" y2="136.0" stroke="#505050" stroke-width="1.15" stroke-linecap="round"/>
<line x1="1326.3" y1="246.6" x2="1329.4" y2="246.9" stroke="#505050" stroke-width="1.15" stroke-linecap="round"/>
<line x1="1259.4" y1="129.5" x2="1259.5" y2="132.8" stroke="#505050" stroke-width="1.15" stroke-linecap="round"/>
<line x1="1329.4" y1="246.9" x2="1332.4" y2="247.2" stroke="#505050" stroke-width="1.15" stroke-linecap="round"/>
<line x1="1259.4" y1="126.3" x2="1259.4" y2="129.5" stroke="#505050" stroke-width="1.15" stroke-linecap="round"/>
<line x1="1259.3" y1="123.0" x2="1259.4" y2="126.3" stroke="#505050" stroke-width="1.15" stroke-linecap="round"/>
<line x1="1332.4" y1="247.2" x2="1335.5" y2="247.5" stroke="#505050" stroke-width="1.15" stroke-linecap="round"/>
<line x1="1259.3" y1="119.7" x2="1259.3" y2="123.0" stroke="#505050" stroke-width="1.15" stroke-linecap="round"/>
<line x1="1246.8" y1="249.2" x2="1248.1" y2="248.4" stroke="#505050" stroke-width="1.15" stroke-linecap="round"/>
<line x1="1335.5" y1="247.5" x2="1338.6" y2="247.8" stroke="#505050" stroke-width="1.15" stroke-linecap="round"/>
<line x1="1259.2" y1="116.5" x2="1259.3" y2="119.7" stroke="#505050" stroke-width="1.15" stroke-linecap="round"/>
<line x1="1259.2" y1="113.2" x2="1259.2" y2="116.5" stroke="#505050" stroke-width="1.15" stroke-linecap="round"/>
<line x1="1338.6" y1="247.8" x2="1341.7" y2="248.1" stroke="#505050" stroke-width="1.15" stroke-linecap="round"/>
<line x1="1259.1" y1="110.0" x2="1259.2" y2="113.2" stroke="#505050" stroke-width="1.15" stroke-linecap="round"/>
<line x1="1245.4" y1="250.0" x2="1246.8" y2="249.2" stroke="#505050" stroke-width="1.15" stroke-linecap="round"/>
<line x1="1341.7" y1="248.1" x2="1344.8" y2="248.4" stroke="#505050" stroke-width="1.15" stroke-linecap="round"/>
<line x1="1259.0" y1="106.7" x2="1259.1" y2="110.0" stroke="#505050" stroke-width="1.15" stroke-linecap="round"/>
<line x1="1259.0" y1="103.4" x2="1259.0" y2="106.7" stroke="#505050" stroke-width="1.15" stroke-linecap="round"/>
<line x1="1344.8" y1="248.4" x2="1347.9" y2="248.7" stroke="#505050" stroke-width="1.15" stroke-linecap="round"/>
<line x1="1258.9" y1="100.2" x2="1259.0" y2="103.4" stroke="#505050" stroke-width="1.15" stroke-linecap="round"/>
<line x1="1258.9" y1="96.9" x2="1258.9" y2="100.2" stroke="#505050" stroke-width="1.15" stroke-linecap="round"/>
<line x1="1347.9" y1="248.7" x2="1351.0" y2="249.0" stroke="#505050" stroke-width="1.15" stroke-linecap="round"/>
<line x1="1244.1" y1="250.9" x2="1245.4" y2="250.0" stroke="#505050" stroke-width="1.15" stroke-linecap="round"/>
<line x1="1258.8" y1="93.7" x2="1258.9" y2="96.9" stroke="#505050" stroke-width="1.15" stroke-linecap="round"/>
<line x1="1351.0" y1="249.0" x2="1354.1" y2="249.2" stroke="#505050" stroke-width="1.15" stroke-linecap="round"/>
<line x1="1258.8" y1="90.4" x2="1258.8" y2="93.7" stroke="#505050" stroke-width="1.15" stroke-linecap="round"/>
<line x1="1258.7" y1="87.2" x2="1258.8" y2="90.4" stroke="#505050" stroke-width="1.15" stroke-linecap="round"/>
<line x1="1354.1" y1="249.2" x2="1357.2" y2="249.5" stroke="#505050" stroke-width="1.15" stroke-linecap="round"/>
<line x1="1242.8" y1="251.7" x2="1244.1" y2="250.9" stroke="#505050" stroke-width="1.15" stroke-linecap="round"/>
<line x1="1258.7" y1="83.9" x2="1258.7" y2="87.2" stroke="#505050" stroke-width="1.15" stroke-linecap="round"/>
<line x1="1357.2" y1="249.5" x2="1360.3" y2="249.8" stroke="#505050" stroke-width="1.15" stroke-linecap="round"/>
<line x1="1258.6" y1="80.6" x2="1258.7" y2="83.9" stroke="#505050" stroke-width="1.15" stroke-linecap="round"/>
<line x1="1258.5" y1="77.4" x2="1258.6" y2="80.6" stroke="#505050" stroke-width="1.15" stroke-linecap="round"/>
<line x1="1360.3" y1="249.8" x2="1363.4" y2="250.1" stroke="#505050" stroke-width="1.15" stroke-linecap="round"/>
<line x1="1241.5" y1="252.5" x2="1242.8" y2="251.7" stroke="#505050" stroke-width="1.15" stroke-linecap="round"/>
<line x1="1363.4" y1="250.1" x2="1366.5" y2="250.4" stroke="#505050" stroke-width="1.15" stroke-linecap="round"/>
<line x1="1366.5" y1="250.4" x2="1369.6" y2="250.7" stroke="#505050" stroke-width="1.15" stroke-linecap="round"/>
<line x1="1369.6" y1="250.7" x2="1372.7" y2="251.0" stroke="#505050" stroke-width="1.15" stroke-linecap="round"/>
<line x1="1240.2" y1="253.3" x2="1241.5" y2="252.5" stroke="#505050" stroke-width="1.15" stroke-linecap="round"/>
<line x1="1372.7" y1="251.0" x2="1375.8" y2="251.3" stroke="#505050" stroke-width="1.15" stroke-linecap="round"/>
<line x1="1375.8" y1="251.3" x2="1378.8" y2="251.6" stroke="#505050" stroke-width="1.15" stroke-linecap="round"/>
<line x1="1238.8" y1="254.1" x2="1240.2" y2="253.3" stroke="#505050" stroke-width="1.15" stroke-linecap="round"/>
<line x1="1378.8" y1="251.6" x2="1381.9" y2="251.9" stroke="#505050" stroke-width="1.15" stroke-linecap="round"/>
<circle cx="1258.0" cy="44.8" r="32.1" fill="url(#gCe)"/><circle cx="1258.0" cy="44.8" r="32.1" fill="#fff" fill-opacity="0.18"/>
<line x1="1381.9" y1="251.9" x2="1385.0" y2="252.2" stroke="#505050" stroke-width="1.15" stroke-linecap="round"/>
<line x1="1237.5" y1="254.9" x2="1238.8" y2="254.1" stroke="#505050" stroke-width="1.15" stroke-linecap="round"/>
<line x1="1385.0" y1="252.2" x2="1388.1" y2="252.5" stroke="#505050" stroke-width="1.15" stroke-linecap="round"/>
<line x1="1388.1" y1="252.5" x2="1391.2" y2="252.8" stroke="#505050" stroke-width="1.15" stroke-linecap="round"/>
<line x1="1391.2" y1="252.8" x2="1394.3" y2="253.1" stroke="#505050" stroke-width="1.15" stroke-linecap="round"/>
<line x1="1236.2" y1="255.7" x2="1237.5" y2="254.9" stroke="#505050" stroke-width="1.15" stroke-linecap="round"/>
<line x1="1394.3" y1="253.1" x2="1397.4" y2="253.4" stroke="#505050" stroke-width="1.15" stroke-linecap="round"/>
<line x1="1397.4" y1="253.4" x2="1400.5" y2="253.7" stroke="#505050" stroke-width="1.15" stroke-linecap="round"/>
<line x1="1234.9" y1="256.5" x2="1236.2" y2="255.7" stroke="#505050" stroke-width="1.15" stroke-linecap="round"/>
<line x1="1400.5" y1="253.7" x2="1403.6" y2="254.0" stroke="#505050" stroke-width="1.15" stroke-linecap="round"/>
<line x1="1403.6" y1="254.0" x2="1406.7" y2="254.3" stroke="#505050" stroke-width="1.15" stroke-linecap="round"/>
<line x1="1233.5" y1="257.3" x2="1234.9" y2="256.5" stroke="#505050" stroke-width="1.15" stroke-linecap="round"/>
<line x1="1406.7" y1="254.3" x2="1409.8" y2="254.6" stroke="#505050" stroke-width="1.15" stroke-linecap="round"/>
<line x1="1409.8" y1="254.6" x2="1412.9" y2="254.9" stroke="#505050" stroke-width="1.15" stroke-linecap="round"/>
<line x1="1412.9" y1="254.9" x2="1416.0" y2="255.2" stroke="#505050" stroke-width="1.15" stroke-linecap="round"/>
<line x1="1232.2" y1="258.2" x2="1233.5" y2="257.3" stroke="#505050" stroke-width="1.15" stroke-linecap="round"/>
<circle cx="1352.5" cy="151.5" r="32.1" fill="url(#gCe)"/><circle cx="1352.5" cy="151.5" r="32.1" fill="#fff" fill-opacity="0.15"/>
<line x1="1288.9" y1="47.8" x2="1292.0" y2="48.1" stroke="#505050" stroke-width="1.15" stroke-linecap="round"/>
<line x1="1292.0" y1="48.1" x2="1295.1" y2="48.4" stroke="#505050" stroke-width="1.15" stroke-linecap="round"/>
<line x1="1295.1" y1="48.4" x2="1298.2" y2="48.7" stroke="#505050" stroke-width="1.15" stroke-linecap="round"/>
<line x1="1230.9" y1="259.0" x2="1232.2" y2="258.2" stroke="#505050" stroke-width="1.15" stroke-linecap="round"/>
<line x1="1298.2" y1="48.7" x2="1301.3" y2="49.0" stroke="#505050" stroke-width="1.15" stroke-linecap="round"/>
<line x1="1301.3" y1="49.0" x2="1304.4" y2="49.3" stroke="#505050" stroke-width="1.15" stroke-linecap="round"/>
<line x1="1229.6" y1="259.8" x2="1230.9" y2="259.0" stroke="#505050" stroke-width="1.15" stroke-linecap="round"/>
<line x1="1304.4" y1="49.3" x2="1307.5" y2="49.6" stroke="#505050" stroke-width="1.15" stroke-linecap="round"/>
<line x1="1307.5" y1="49.6" x2="1310.6" y2="49.9" stroke="#505050" stroke-width="1.15" stroke-linecap="round"/>
<line x1="1228.3" y1="260.6" x2="1229.6" y2="259.8" stroke="#505050" stroke-width="1.15" stroke-linecap="round"/>
<line x1="1310.6" y1="49.9" x2="1313.7" y2="50.2" stroke="#505050" stroke-width="1.15" stroke-linecap="round"/>
<line x1="1313.7" y1="50.2" x2="1316.8" y2="50.5" stroke="#505050" stroke-width="1.15" stroke-linecap="round"/>
<line x1="1226.9" y1="261.4" x2="1228.3" y2="260.6" stroke="#505050" stroke-width="1.15" stroke-linecap="round"/>
<line x1="1316.8" y1="50.5" x2="1319.9" y2="50.8" stroke="#505050" stroke-width="1.15" stroke-linecap="round"/>
<line x1="1319.9" y1="50.8" x2="1323.0" y2="51.1" stroke="#505050" stroke-width="1.15" stroke-linecap="round"/>
<circle cx="1446.9" cy="258.2" r="32.1" fill="url(#gCe)"/><circle cx="1446.9" cy="258.2" r="32.1" fill="#fff" fill-opacity="0.13"/>
<line x1="1323.0" y1="51.1" x2="1326.1" y2="51.4" stroke="#505050" stroke-width="1.15" stroke-linecap="round"/>
<line x1="1225.6" y1="262.2" x2="1226.9" y2="261.4" stroke="#505050" stroke-width="1.15" stroke-linecap="round"/>
<line x1="1326.1" y1="51.4" x2="1329.1" y2="51.7" stroke="#505050" stroke-width="1.15" stroke-linecap="round"/>
<line x1="1329.1" y1="51.7" x2="1332.2" y2="52.0" stroke="#505050" stroke-width="1.15" stroke-linecap="round"/>
<line x1="1224.3" y1="263.0" x2="1225.6" y2="262.2" stroke="#505050" stroke-width="1.15" stroke-linecap="round"/>
<line x1="1243.5" y1="53.7" x2="1244.8" y2="52.9" stroke="#505050" stroke-width="1.15" stroke-linecap="round"/>
<line x1="1332.2" y1="52.0" x2="1335.3" y2="52.3" stroke="#505050" stroke-width="1.15" stroke-linecap="round"/>
<line x1="1335.3" y1="52.3" x2="1338.4" y2="52.6" stroke="#505050" stroke-width="1.15" stroke-linecap="round"/>
<line x1="1223.0" y1="263.8" x2="1224.3" y2="263.0" stroke="#505050" stroke-width="1.15" stroke-linecap="round"/>
<line x1="1242.1" y1="54.5" x2="1243.5" y2="53.7" stroke="#505050" stroke-width="1.15" stroke-linecap="round"/>
<line x1="1338.4" y1="52.6" x2="1341.5" y2="52.9" stroke="#505050" stroke-width="1.15" stroke-linecap="round"/>
<line x1="1341.5" y1="52.9" x2="1344.6" y2="53.2" stroke="#505050" stroke-width="1.15" stroke-linecap="round"/>
<line x1="1446.3" y1="222.4" x2="1446.3" y2="225.6" stroke="#505050" stroke-width="1.15" stroke-linecap="round"/>
<line x1="1446.2" y1="219.1" x2="1446.3" y2="222.4" stroke="#505050" stroke-width="1.15" stroke-linecap="round"/>
<line x1="1344.6" y1="53.2" x2="1347.7" y2="53.5" stroke="#505050" stroke-width="1.15" stroke-linecap="round"/>
<line x1="1221.7" y1="264.6" x2="1223.0" y2="263.8" stroke="#505050" stroke-width="1.15" stroke-linecap="round"/>
<line x1="1240.8" y1="55.4" x2="1242.1" y2="54.5" stroke="#505050" stroke-width="1.15" stroke-linecap="round"/>
<line x1="1446.2" y1="215.8" x2="1446.2" y2="219.1" stroke="#505050" stroke-width="1.15" stroke-linecap="round"/>
<line x1="1347.7" y1="53.5" x2="1350.8" y2="53.8" stroke="#505050" stroke-width="1.15" stroke-linecap="round"/>
<line x1="1446.1" y1="212.6" x2="1446.2" y2="215.8" stroke="#505050" stroke-width="1.15" stroke-linecap="round"/>
<line x1="1446.1" y1="209.3" x2="1446.1" y2="212.6" stroke="#505050" stroke-width="1.15" stroke-linecap="round"/>
<line x1="1350.8" y1="53.8" x2="1353.9" y2="54.0" stroke="#505050" stroke-width="1.15" stroke-linecap="round"/>
<line x1="1446.0" y1="206.1" x2="1446.1" y2="209.3" stroke="#505050" stroke-width="1.15" stroke-linecap="round"/>
<line x1="1220.3" y1="265.5" x2="1221.7" y2="264.6" stroke="#505050" stroke-width="1.15" stroke-linecap="round"/>
<line x1="1239.5" y1="56.2" x2="1240.8" y2="55.4" stroke="#505050" stroke-width="1.15" stroke-linecap="round"/>
<line x1="1353.9" y1="54.0" x2="1357.0" y2="54.3" stroke="#505050" stroke-width="1.15" stroke-linecap="round"/>
<line x1="1446.0" y1="202.8" x2="1446.0" y2="206.1" stroke="#505050" stroke-width="1.15" stroke-linecap="round"/>
<line x1="1445.9" y1="199.5" x2="1446.0" y2="202.8" stroke="#505050" stroke-width="1.15" stroke-linecap="round"/>
<line x1="1357.0" y1="54.3" x2="1360.1" y2="54.6" stroke="#505050" stroke-width="1.15" stroke-linecap="round"/>
<line x1="1445.9" y1="196.3" x2="1445.9" y2="199.5" stroke="#505050" stroke-width="1.15" stroke-linecap="round"/>
<line x1="1219.0" y1="266.3" x2="1220.3" y2="265.5" stroke="#505050" stroke-width="1.15" stroke-linecap="round"/>
<line x1="1238.2" y1="57.0" x2="1239.5" y2="56.2" stroke="#505050" stroke-width="1.15" stroke-linecap="round"/>
<line x1="1445.8" y1="193.0" x2="1445.9" y2="196.3" stroke="#505050" stroke-width="1.15" stroke-linecap="round"/>
<line x1="1360.1" y1="54.6" x2="1363.2" y2="54.9" stroke="#505050" stroke-width="1.15" stroke-linecap="round"/>
<line x1="1445.7" y1="189.8" x2="1445.8" y2="193.0" stroke="#505050" stroke-width="1.15" stroke-linecap="round"/>
<line x1="1363.2" y1="54.9" x2="1366.3" y2="55.2" stroke="#505050" stroke-width="1.15" stroke-linecap="round"/>
<line x1="1445.7" y1="186.5" x2="1445.7" y2="189.8" stroke="#505050" stroke-width="1.15" stroke-linecap="round"/>
<line x1="1445.6" y1="183.3" x2="1445.7" y2="186.5" stroke="#505050" stroke-width="1.15" stroke-linecap="round"/>
<line x1="1366.3" y1="55.2" x2="1369.4" y2="55.5" stroke="#505050" stroke-width="1.15" stroke-linecap="round"/>
<line x1="1217.7" y1="267.1" x2="1219.0" y2="266.3" stroke="#505050" stroke-width="1.15" stroke-linecap="round"/>
<line x1="1236.9" y1="57.8" x2="1238.2" y2="57.0" stroke="#505050" stroke-width="1.15" stroke-linecap="round"/>
<line x1="1445.6" y1="180.0" x2="1445.6" y2="183.3" stroke="#505050" stroke-width="1.15" stroke-linecap="round"/>
<line x1="1369.4" y1="55.5" x2="1372.5" y2="55.8" stroke="#505050" stroke-width="1.15" stroke-linecap="round"/>
<line x1="1445.5" y1="176.7" x2="1445.6" y2="180.0" stroke="#505050" stroke-width="1.15" stroke-linecap="round"/>
<line x1="1445.5" y1="173.5" x2="1445.5" y2="176.7" stroke="#505050" stroke-width="1.15" stroke-linecap="round"/>
<line x1="1372.5" y1="55.8" x2="1375.5" y2="56.1" stroke="#505050" stroke-width="1.15" stroke-linecap="round"/>
<line x1="1216.4" y1="267.9" x2="1217.7" y2="267.1" stroke="#505050" stroke-width="1.15" stroke-linecap="round"/>
<line x1="1235.5" y1="58.6" x2="1236.9" y2="57.8" stroke="#505050" stroke-width="1.15" stroke-linecap="round"/>
<line x1="1445.4" y1="170.2" x2="1445.5" y2="173.5" stroke="#505050" stroke-width="1.15" stroke-linecap="round"/>
<line x1="1375.5" y1="56.1" x2="1378.6" y2="56.4" stroke="#505050" stroke-width="1.15" stroke-linecap="round"/>
<line x1="1445.4" y1="167.0" x2="1445.4" y2="170.2" stroke="#505050" stroke-width="1.15" stroke-linecap="round"/>
<line x1="1445.3" y1="163.7" x2="1445.4" y2="167.0" stroke="#505050" stroke-width="1.15" stroke-linecap="round"/>
<line x1="1378.6" y1="56.4" x2="1381.7" y2="56.7" stroke="#505050" stroke-width="1.15" stroke-linecap="round"/>
<line x1="1445.2" y1="160.4" x2="1445.3" y2="163.7" stroke="#505050" stroke-width="1.15" stroke-linecap="round"/>
<line x1="1215.0" y1="268.7" x2="1216.4" y2="267.9" stroke="#505050" stroke-width="1.15" stroke-linecap="round"/>
<line x1="1234.2" y1="59.4" x2="1235.5" y2="58.6" stroke="#505050" stroke-width="1.15" stroke-linecap="round"/>
<line x1="1381.7" y1="56.7" x2="1384.8" y2="57.0" stroke="#505050" stroke-width="1.15" stroke-linecap="round"/>
<line x1="1445.2" y1="157.2" x2="1445.2" y2="160.4" stroke="#505050" stroke-width="1.15" stroke-linecap="round"/>
<line x1="1445.1" y1="153.9" x2="1445.2" y2="157.2" stroke="#505050" stroke-width="1.15" stroke-linecap="round"/>
<line x1="1384.8" y1="57.0" x2="1387.9" y2="57.3" stroke="#505050" stroke-width="1.15" stroke-linecap="round"/>
<line x1="1445.1" y1="150.7" x2="1445.1" y2="153.9" stroke="#505050" stroke-width="1.15" stroke-linecap="round"/>
<line x1="1213.7" y1="269.5" x2="1215.0" y2="268.7" stroke="#505050" stroke-width="1.15" stroke-linecap="round"/>
<line x1="1387.9" y1="57.3" x2="1391.0" y2="57.6" stroke="#505050" stroke-width="1.15" stroke-linecap="round"/>
<line x1="1232.9" y1="60.2" x2="1234.2" y2="59.4" stroke="#505050" stroke-width="1.15" stroke-linecap="round"/>
<line x1="1445.0" y1="147.4" x2="1445.1" y2="150.7" stroke="#505050" stroke-width="1.15" stroke-linecap="round"/>
<line x1="1445.0" y1="144.2" x2="1445.0" y2="147.4" stroke="#505050" stroke-width="1.15" stroke-linecap="round"/>
<line x1="1391.0" y1="57.6" x2="1394.1" y2="57.9" stroke="#505050" stroke-width="1.15" stroke-linecap="round"/>
<line x1="1444.9" y1="140.9" x2="1445.0" y2="144.2" stroke="#505050" stroke-width="1.15" stroke-linecap="round"/>
<line x1="1394.1" y1="57.9" x2="1397.2" y2="58.2" stroke="#505050" stroke-width="1.15" stroke-linecap="round"/>
<line x1="1444.9" y1="137.6" x2="1444.9" y2="140.9" stroke="#505050" stroke-width="1.15" stroke-linecap="round"/>
<line x1="1212.4" y1="270.3" x2="1213.7" y2="269.5" stroke="#505050" stroke-width="1.15" stroke-linecap="round"/>
<line x1="1432.4" y1="267.1" x2="1433.7" y2="266.3" stroke="#505050" stroke-width="1.15" stroke-linecap="round"/>
<line x1="1231.6" y1="61.0" x2="1232.9" y2="60.2" stroke="#505050" stroke-width="1.15" stroke-linecap="round"/>
<circle cx="1412.5" cy="188.7" r="10.0" fill="url(#gH)"/><circle cx="1412.5" cy="188.7" r="10.0" fill="#fff" fill-opacity="0.07"/>
<line x1="1444.8" y1="134.4" x2="1444.9" y2="137.6" stroke="#505050" stroke-width="1.15" stroke-linecap="round"/>
<line x1="1397.2" y1="58.2" x2="1400.3" y2="58.5" stroke="#505050" stroke-width="1.15" stroke-linecap="round"/>
<line x1="1444.8" y1="131.1" x2="1444.8" y2="134.4" stroke="#505050" stroke-width="1.15" stroke-linecap="round"/>
<line x1="1400.3" y1="58.5" x2="1403.4" y2="58.8" stroke="#505050" stroke-width="1.15" stroke-linecap="round"/>
<line x1="1444.7" y1="127.9" x2="1444.8" y2="131.1" stroke="#505050" stroke-width="1.15" stroke-linecap="round"/>
<rect transform="translate(1395.7 203.3) rotate(-40.9)" x="0" y="-3.8" width="13.9" height="7.6" fill="url(#gb12)"/>
<line x1="1211.1" y1="271.1" x2="1212.4" y2="270.3" stroke="#505050" stroke-width="1.15" stroke-linecap="round"/>
<line x1="1431.0" y1="267.9" x2="1432.4" y2="267.1" stroke="#505050" stroke-width="1.15" stroke-linecap="round"/>
<line x1="1230.2" y1="61.8" x2="1231.6" y2="61.0" stroke="#505050" stroke-width="1.15" stroke-linecap="round"/>
<line x1="1444.6" y1="124.6" x2="1444.7" y2="127.9" stroke="#505050" stroke-width="1.15" stroke-linecap="round"/>
<line x1="1403.4" y1="58.8" x2="1406.5" y2="59.1" stroke="#505050" stroke-width="1.15" stroke-linecap="round"/>
<line x1="1444.6" y1="121.3" x2="1444.6" y2="124.6" stroke="#505050" stroke-width="1.15" stroke-linecap="round"/>
<rect transform="translate(1386.2 211.5) rotate(-40.9)" x="0" y="-3.8" width="13.9" height="7.6" fill="url(#gb12)"/>
<line x1="1406.5" y1="59.1" x2="1409.6" y2="59.4" stroke="#505050" stroke-width="1.15" stroke-linecap="round"/>
<line x1="1444.5" y1="118.1" x2="1444.6" y2="121.3" stroke="#505050" stroke-width="1.15" stroke-linecap="round"/>
<rect transform="translate(1412.1 163.6) rotate(89.0)" x="0" y="-3.8" width="16.9" height="7.6" fill="url(#gb12)"/>
<line x1="1444.5" y1="114.8" x2="1444.5" y2="118.1" stroke="#505050" stroke-width="1.15" stroke-linecap="round"/>
<line x1="1209.8" y1="272.0" x2="1211.1" y2="271.1" stroke="#505050" stroke-width="1.15" stroke-linecap="round"/>
<circle cx="1220.0" cy="166.9" r="32.1" fill="url(#gCe)"/><circle cx="1220.0" cy="166.9" r="32.1" fill="#fff" fill-opacity="0.07"/>
<line x1="1409.6" y1="59.4" x2="1412.7" y2="59.7" stroke="#505050" stroke-width="1.15" stroke-linecap="round"/>
<line x1="1429.7" y1="268.8" x2="1431.0" y2="267.9" stroke="#505050" stroke-width="1.15" stroke-linecap="round"/>
<line x1="1228.9" y1="62.7" x2="1230.2" y2="61.8" stroke="#505050" stroke-width="1.15" stroke-linecap="round"/>
<circle cx="1299.9" cy="192.0" r="10.0" fill="url(#gH)"/><circle cx="1299.9" cy="192.0" r="10.0" fill="#fff" fill-opacity="0.07"/>
<line x1="1444.4" y1="111.6" x2="1444.5" y2="114.8" stroke="#505050" stroke-width="1.15" stroke-linecap="round"/>
<circle cx="1379.8" cy="217.0" r="10.0" fill="url(#gH)"/><circle cx="1379.8" cy="217.0" r="10.0" fill="#fff" fill-opacity="0.07"/>
<rect transform="translate(1420.4 189.5) rotate(5.5)" x="0" y="-3.8" width="16.1" height="7.6" fill="url(#gb15)"/>
<line x1="1444.4" y1="108.3" x2="1444.4" y2="111.6" stroke="#505050" stroke-width="1.15" stroke-linecap="round"/>
<line x1="1444.3" y1="105.1" x2="1444.4" y2="108.3" stroke="#505050" stroke-width="1.15" stroke-linecap="round"/>
<line x1="1208.4" y1="272.8" x2="1209.8" y2="272.0" stroke="#505050" stroke-width="1.15" stroke-linecap="round"/>
<rect transform="translate(1411.9 148.1) rotate(89.0)" x="0" y="-3.8" width="16.9" height="7.6" fill="url(#gb12)"/>
<line x1="1428.4" y1="269.6" x2="1429.7" y2="268.8" stroke="#505050" stroke-width="1.15" stroke-linecap="round"/>
<line x1="1227.6" y1="63.5" x2="1228.9" y2="62.7" stroke="#505050" stroke-width="1.15" stroke-linecap="round"/>
<line x1="1444.3" y1="101.8" x2="1444.3" y2="105.1" stroke="#505050" stroke-width="1.15" stroke-linecap="round"/>
<line x1="1444.2" y1="98.5" x2="1444.3" y2="101.8" stroke="#505050" stroke-width="1.15" stroke-linecap="round"/>
<rect transform="translate(1299.8 183.7) rotate(-91.0)" x="0" y="-3.8" width="16.9" height="7.6" fill="url(#gb9)"/>
<line x1="1444.2" y1="95.3" x2="1444.2" y2="98.5" stroke="#505050" stroke-width="1.15" stroke-linecap="round"/>
<line x1="1207.1" y1="273.6" x2="1208.4" y2="272.8" stroke="#505050" stroke-width="1.15" stroke-linecap="round"/>
<line x1="1427.1" y1="270.4" x2="1428.4" y2="269.6" stroke="#505050" stroke-width="1.15" stroke-linecap="round"/>
<line x1="1226.3" y1="64.3" x2="1227.6" y2="63.5" stroke="#505050" stroke-width="1.15" stroke-linecap="round"/>
<rect transform="translate(1323.8 194.3) rotate(-174.5)" x="0" y="-3.8" width="16.1" height="7.6" fill="url(#gb9)"/>
<circle cx="1411.7" cy="139.9" r="10.0" fill="url(#gH)"/><circle cx="1411.7" cy="139.9" r="10.0" fill="#fff" fill-opacity="0.06"/>
<rect transform="translate(1435.1 190.9) rotate(5.5)" x="0" y="-3.8" width="16.1" height="7.6" fill="url(#gb15)"/>
<rect transform="translate(1362.6 206.4) rotate(31.6)" x="0" y="-3.8" width="12.6" height="7.6" fill="url(#gb9)"/>
<rect transform="translate(1299.5 168.2) rotate(-91.0)" x="0" y="-3.8" width="16.9" height="7.6" fill="url(#gb9)"/>
<line x1="1205.8" y1="274.4" x2="1207.1" y2="273.6" stroke="#505050" stroke-width="1.15" stroke-linecap="round"/>
<line x1="1425.8" y1="271.2" x2="1427.1" y2="270.4" stroke="#505050" stroke-width="1.15" stroke-linecap="round"/>
<line x1="1225.0" y1="65.1" x2="1226.3" y2="64.3" stroke="#505050" stroke-width="1.15" stroke-linecap="round"/>
<rect transform="translate(1382.5 223.4) rotate(67.3)" x="0" y="-3.8" width="11.4" height="7.6" fill="url(#gb13)"/>
<line x1="1204.5" y1="275.2" x2="1205.8" y2="274.4" stroke="#505050" stroke-width="1.15" stroke-linecap="round"/>
<line x1="1424.4" y1="272.0" x2="1425.8" y2="271.2" stroke="#505050" stroke-width="1.15" stroke-linecap="round"/>
<line x1="1223.6" y1="65.9" x2="1225.0" y2="65.1" stroke="#505050" stroke-width="1.15" stroke-linecap="round"/>
<rect transform="translate(1352.9 200.4) rotate(31.6)" x="0" y="-3.8" width="12.6" height="7.6" fill="url(#gb9)"/>
<circle cx="1299.1" cy="143.1" r="10.0" fill="url(#gH)"/><circle cx="1299.1" cy="143.1" r="10.0" fill="#fff" fill-opacity="0.05"/>
<rect transform="translate(1338.5 195.7) rotate(-174.5)" x="0" y="-3.8" width="16.1" height="7.6" fill="url(#gb9)"/>
<circle cx="1314.5" cy="273.6" r="32.1" fill="url(#gCe)"/><circle cx="1314.5" cy="273.6" r="32.1" fill="#fff" fill-opacity="0.05"/>
<circle cx="1443.6" cy="62.7" r="32.1" fill="url(#gCe)"/><circle cx="1443.6" cy="62.7" r="32.1" fill="#fff" fill-opacity="0.05"/>
<rect transform="translate(1419.5 140.6) rotate(5.5)" x="0" y="-3.8" width="16.1" height="7.6" fill="url(#gb11)"/>
<circle cx="1459.0" cy="193.2" r="10.0" fill="url(#gH)"/><circle cx="1459.0" cy="193.2" r="10.0" fill="#fff" fill-opacity="0.05"/>
<rect transform="translate(1394.4 129.2) rotate(31.6)" x="0" y="-3.8" width="12.6" height="7.6" fill="url(#gb11)"/>
<line x1="1203.1" y1="276.0" x2="1204.5" y2="275.2" stroke="#505050" stroke-width="1.15" stroke-linecap="round"/>
<line x1="1423.1" y1="272.8" x2="1424.4" y2="272.0" stroke="#505050" stroke-width="1.15" stroke-linecap="round"/>
<line x1="1222.3" y1="66.7" x2="1223.6" y2="65.9" stroke="#505050" stroke-width="1.15" stroke-linecap="round"/>
<rect transform="translate(1296.6 194.0) rotate(148.4)" x="0" y="-3.8" width="8.0" height="7.6" fill="url(#gb22)"/>
<rect transform="translate(1386.5 232.9) rotate(67.3)" x="0" y="-3.8" width="11.4" height="7.6" fill="url(#gb13)"/>
<line x1="1201.8" y1="276.8" x2="1203.1" y2="276.0" stroke="#505050" stroke-width="1.15" stroke-linecap="round"/>
<line x1="1421.8" y1="273.6" x2="1423.1" y2="272.8" stroke="#505050" stroke-width="1.15" stroke-linecap="round"/>
<line x1="1221.0" y1="67.5" x2="1222.3" y2="66.7" stroke="#505050" stroke-width="1.15" stroke-linecap="round"/>
<rect transform="translate(1458.5 168.1) rotate(89.0)" x="0" y="-3.8" width="16.9" height="7.6" fill="url(#gb11)"/>
<rect transform="translate(1384.7 123.3) rotate(31.6)" x="0" y="-3.8" width="12.6" height="7.6" fill="url(#gb11)"/>
<rect transform="translate(1322.9 145.4) rotate(-174.5)" x="0" y="-3.8" width="16.1" height="7.6" fill="url(#gb5)"/>
<circle cx="1346.3" cy="196.4" r="10.0" fill="url(#gH)"/><circle cx="1346.3" cy="196.4" r="10.0" fill="#fff" fill-opacity="0.04"/>
<rect transform="translate(1434.3 142.0) rotate(5.5)" x="0" y="-3.8" width="16.1" height="7.6" fill="url(#gb11)"/>
<line x1="1200.5" y1="277.6" x2="1201.8" y2="276.8" stroke="#505050" stroke-width="1.15" stroke-linecap="round"/>
<line x1="1420.5" y1="274.4" x2="1421.8" y2="273.6" stroke="#505050" stroke-width="1.15" stroke-linecap="round"/>
<line x1="1219.7" y1="68.3" x2="1221.0" y2="67.5" stroke="#505050" stroke-width="1.15" stroke-linecap="round"/>
<rect transform="translate(1458.3 152.6) rotate(89.0)" x="0" y="-3.8" width="16.9" height="7.6" fill="url(#gb11)"/>
<rect transform="translate(1461.6 199.6) rotate(67.3)" x="0" y="-3.8" width="11.4" height="7.6" fill="url(#gb18)"/>
<line x1="1199.2" y1="278.4" x2="1200.5" y2="277.6" stroke="#505050" stroke-width="1.15" stroke-linecap="round"/>
<line x1="1419.1" y1="275.2" x2="1420.5" y2="274.4" stroke="#505050" stroke-width="1.15" stroke-linecap="round"/>
<line x1="1218.4" y1="69.2" x2="1219.7" y2="68.3" stroke="#505050" stroke-width="1.15" stroke-linecap="round"/>
<rect transform="translate(1345.9 171.3) rotate(89.0)" x="0" y="-3.8" width="16.9" height="7.6" fill="url(#gb3)"/>
<rect transform="translate(1337.7 146.8) rotate(-174.5)" x="0" y="-3.8" width="16.1" height="7.6" fill="url(#gb5)"/>
<circle cx="1378.2" cy="119.3" r="10.0" fill="url(#gH)"/><circle cx="1378.2" cy="119.3" r="10.0" fill="#fff" fill-opacity="0.04"/>
<circle cx="1393.5" cy="249.8" r="10.0" fill="url(#gH)"/><circle cx="1393.5" cy="249.8" r="10.0" fill="#fff" fill-opacity="0.04"/>
<circle cx="1458.1" cy="144.3" r="10.0" fill="url(#gH)"/><circle cx="1458.1" cy="144.3" r="10.0" fill="#fff" fill-opacity="0.04"/>
<line x1="1197.9" y1="279.3" x2="1199.2" y2="278.4" stroke="#505050" stroke-width="1.15" stroke-linecap="round"/>
<line x1="1417.8" y1="276.1" x2="1419.1" y2="275.2" stroke="#505050" stroke-width="1.15" stroke-linecap="round"/>
<line x1="1217.0" y1="70.0" x2="1218.4" y2="69.2" stroke="#505050" stroke-width="1.15" stroke-linecap="round"/>
<rect transform="translate(1345.6 155.8) rotate(89.0)" x="0" y="-3.8" width="16.9" height="7.6" fill="url(#gb3)"/>
<rect transform="translate(1295.8 145.1) rotate(148.4)" x="0" y="-3.8" width="8.0" height="7.6" fill="url(#gb24)"/>
<rect transform="translate(1361.3 133.9) rotate(-40.9)" x="0" y="-3.8" width="13.9" height="7.6" fill="url(#gb4)"/>
<line x1="1196.5" y1="280.1" x2="1197.9" y2="279.3" stroke="#505050" stroke-width="1.15" stroke-linecap="round"/>
<rect transform="translate(1290.3 197.9) rotate(148.4)" x="0" y="-3.8" width="8.0" height="7.6" fill="url(#gb22)"/>
<line x1="1416.5" y1="276.9" x2="1417.8" y2="276.1" stroke="#505050" stroke-width="1.15" stroke-linecap="round"/>
<line x1="1215.7" y1="70.8" x2="1217.0" y2="70.0" stroke="#505050" stroke-width="1.15" stroke-linecap="round"/>
<rect transform="translate(1351.9 142.1) rotate(-40.9)" x="0" y="-3.8" width="13.9" height="7.6" fill="url(#gb4)"/>
<rect transform="translate(1465.6 209.1) rotate(67.3)" x="0" y="-3.8" width="11.4" height="7.6" fill="url(#gb18)"/>
<circle cx="1345.5" cy="147.6" r="10.0" fill="url(#gH)"/><circle cx="1345.5" cy="147.6" r="10.0" fill="#fff" fill-opacity="0.03"/>
<line x1="1195.2" y1="280.9" x2="1196.5" y2="280.1" stroke="#505050" stroke-width="1.15" stroke-linecap="round"/>
<line x1="1415.2" y1="277.7" x2="1416.5" y2="276.9" stroke="#505050" stroke-width="1.15" stroke-linecap="round"/>
<line x1="1214.4" y1="71.6" x2="1215.7" y2="70.8" stroke="#505050" stroke-width="1.15" stroke-linecap="round"/>
<rect transform="translate(1401.4 250.5) rotate(5.5)" x="0" y="-3.8" width="16.1" height="7.6" fill="url(#gb17)"/>
<rect transform="translate(1336.1 202.7) rotate(-31.6)" x="0" y="-3.8" width="8.0" height="7.6" fill="url(#gb6)"/>
<line x1="1413.9" y1="278.5" x2="1415.2" y2="277.7" stroke="#505050" stroke-width="1.15" stroke-linecap="round"/>
<line x1="1213.1" y1="72.4" x2="1214.4" y2="71.6" stroke="#505050" stroke-width="1.15" stroke-linecap="round"/>
<line x1="1412.5" y1="279.3" x2="1413.9" y2="278.5" stroke="#505050" stroke-width="1.15" stroke-linecap="round"/>
<line x1="1211.7" y1="73.2" x2="1213.1" y2="72.4" stroke="#505050" stroke-width="1.15" stroke-linecap="round"/>
<rect transform="translate(1416.1 252.0) rotate(5.5)" x="0" y="-3.8" width="16.1" height="7.6" fill="url(#gb17)"/>
<circle cx="1472.7" cy="226.0" r="10.0" fill="url(#gH)"/><circle cx="1472.7" cy="226.0" r="10.0" fill="#fff" fill-opacity="0.03"/>
<rect transform="translate(1380.7 116.1) rotate(-51.4)" x="0" y="-3.8" width="6.6" height="7.6" fill="url(#gb10)"/>
<rect transform="translate(1460.6 141.2) rotate(-51.4)" x="0" y="-3.8" width="6.6" height="7.6" fill="url(#gb10)"/>
<rect transform="translate(1383.4 256.0) rotate(-31.6)" x="0" y="-3.8" width="8.0" height="7.6" fill="url(#gb16)"/>
<line x1="1411.2" y1="280.1" x2="1412.5" y2="279.3" stroke="#505050" stroke-width="1.15" stroke-linecap="round"/>
<line x1="1210.4" y1="74.0" x2="1211.7" y2="73.2" stroke="#505050" stroke-width="1.15" stroke-linecap="round"/>
<rect transform="translate(1455.8 240.6) rotate(-40.9)" x="0" y="-3.8" width="13.9" height="7.6" fill="url(#gb20)"/>
<rect transform="translate(1289.5 149.0) rotate(148.4)" x="0" y="-3.8" width="8.0" height="7.6" fill="url(#gb24)"/>
<rect transform="translate(1446.3 248.8) rotate(-40.9)" x="0" y="-3.8" width="13.9" height="7.6" fill="url(#gb20)"/>
<line x1="1409.9" y1="280.9" x2="1411.2" y2="280.1" stroke="#505050" stroke-width="1.15" stroke-linecap="round"/>
<line x1="1209.1" y1="74.8" x2="1210.4" y2="74.0" stroke="#505050" stroke-width="1.15" stroke-linecap="round"/>
<line x1="1429.1" y1="71.6" x2="1430.4" y2="70.8" stroke="#505050" stroke-width="1.15" stroke-linecap="round"/>
<circle cx="1280.1" cy="204.1" r="10.0" fill="url(#gH)"/><circle cx="1280.1" cy="204.1" r="10.0" fill="#fff" fill-opacity="0.02"/>
<circle cx="1440.0" cy="254.3" r="10.0" fill="url(#gH)"/><circle cx="1440.0" cy="254.3" r="10.0" fill="#fff" fill-opacity="0.02"/>
<line x1="1408.6" y1="281.7" x2="1409.9" y2="280.9" stroke="#505050" stroke-width="1.15" stroke-linecap="round"/>
<line x1="1207.8" y1="75.6" x2="1209.1" y2="74.8" stroke="#505050" stroke-width="1.15" stroke-linecap="round"/>
<rect transform="translate(1335.3 153.8) rotate(-31.6)" x="0" y="-3.8" width="8.0" height="7.6" fill="url(#gb0)"/>
<line x1="1427.7" y1="72.4" x2="1429.1" y2="71.6" stroke="#505050" stroke-width="1.15" stroke-linecap="round"/>
<rect transform="translate(1329.8 206.6) rotate(-31.6)" x="0" y="-3.8" width="8.0" height="7.6" fill="url(#gb6)"/>
<rect transform="translate(1280.0 195.9) rotate(-91.0)" x="0" y="-3.8" width="16.9" height="7.6" fill="url(#gb23)"/>
<line x1="1407.2" y1="282.6" x2="1408.6" y2="281.7" stroke="#505050" stroke-width="1.15" stroke-linecap="round"/>
<line x1="1206.5" y1="76.5" x2="1207.8" y2="75.6" stroke="#505050" stroke-width="1.15" stroke-linecap="round"/>
<line x1="1426.4" y1="73.3" x2="1427.7" y2="72.4" stroke="#505050" stroke-width="1.15" stroke-linecap="round"/>
<rect transform="translate(1384.4 111.5) rotate(-51.4)" x="0" y="-3.8" width="6.6" height="7.6" fill="url(#gb10)"/>
<rect transform="translate(1464.4 136.5) rotate(-51.4)" x="0" y="-3.8" width="6.6" height="7.6" fill="url(#gb10)"/>
<rect transform="translate(1303.9 206.4) rotate(-174.5)" x="0" y="-3.8" width="16.1" height="7.6" fill="url(#gb8)"/>
<rect transform="translate(1475.2 222.8) rotate(-51.4)" x="0" y="-3.8" width="6.6" height="7.6" fill="url(#gb21)"/>
<rect transform="translate(1279.7 180.4) rotate(-91.0)" x="0" y="-3.8" width="16.9" height="7.6" fill="url(#gb23)"/>
<line x1="1405.9" y1="283.4" x2="1407.2" y2="282.6" stroke="#505050" stroke-width="1.15" stroke-linecap="round"/>
<line x1="1205.1" y1="77.3" x2="1206.5" y2="76.5" stroke="#505050" stroke-width="1.15" stroke-linecap="round"/>
<line x1="1425.1" y1="74.1" x2="1426.4" y2="73.3" stroke="#505050" stroke-width="1.15" stroke-linecap="round"/>
<rect transform="translate(1377.1 259.9) rotate(-31.6)" x="0" y="-3.8" width="8.0" height="7.6" fill="url(#gb16)"/>
<line x1="1404.6" y1="284.2" x2="1405.9" y2="283.4" stroke="#505050" stroke-width="1.15" stroke-linecap="round"/>
<line x1="1203.8" y1="78.1" x2="1205.1" y2="77.3" stroke="#505050" stroke-width="1.15" stroke-linecap="round"/>
<line x1="1423.8" y1="74.9" x2="1425.1" y2="74.1" stroke="#505050" stroke-width="1.15" stroke-linecap="round"/>
<circle cx="1279.3" cy="155.3" r="10.0" fill="url(#gH)"/><circle cx="1279.3" cy="155.3" r="10.0" fill="#fff" fill-opacity="0.02"/>
<rect transform="translate(1318.7 207.9) rotate(-174.5)" x="0" y="-3.8" width="16.1" height="7.6" fill="url(#gb8)"/>
<line x1="1403.3" y1="285.0" x2="1404.6" y2="284.2" stroke="#505050" stroke-width="1.15" stroke-linecap="round"/>
<line x1="1202.5" y1="78.9" x2="1203.8" y2="78.1" stroke="#505050" stroke-width="1.15" stroke-linecap="round"/>
<line x1="1422.5" y1="75.7" x2="1423.8" y2="74.9" stroke="#505050" stroke-width="1.15" stroke-linecap="round"/>
<rect transform="translate(1429.8 260.5) rotate(-31.6)" x="0" y="-3.8" width="8.0" height="7.6" fill="url(#gb19)"/>
<rect transform="translate(1329.0 157.7) rotate(-31.6)" x="0" y="-3.8" width="8.0" height="7.6" fill="url(#gb0)"/>
<line x1="1402.0" y1="285.8" x2="1403.3" y2="285.0" stroke="#505050" stroke-width="1.15" stroke-linecap="round"/>
<line x1="1201.2" y1="79.7" x2="1202.5" y2="78.9" stroke="#505050" stroke-width="1.15" stroke-linecap="round"/>
<line x1="1421.1" y1="76.5" x2="1422.5" y2="75.7" stroke="#505050" stroke-width="1.15" stroke-linecap="round"/>
<circle cx="1182.0" cy="289.0" r="32.1" fill="url(#gCe)"/><circle cx="1182.0" cy="289.0" r="32.1" fill="#fff" fill-opacity="0.01"/>
<circle cx="1311.2" cy="78.1" r="32.1" fill="url(#gCe)"/><circle cx="1311.2" cy="78.1" r="32.1" fill="#fff" fill-opacity="0.01"/>
<rect transform="translate(1478.9 218.2) rotate(-51.4)" x="0" y="-3.8" width="6.6" height="7.6" fill="url(#gb21)"/>
<rect transform="translate(1303.1 157.6) rotate(-174.5)" x="0" y="-3.8" width="16.1" height="7.6" fill="url(#gb1)"/>
<circle cx="1326.5" cy="208.6" r="10.0" fill="url(#gH)"/><circle cx="1326.5" cy="208.6" r="10.0" fill="#fff" fill-opacity="0.01"/>
<circle cx="1391.1" cy="103.2" r="10.0" fill="url(#gH)"/><circle cx="1391.1" cy="103.2" r="10.0" fill="#fff" fill-opacity="0.01"/>
<circle cx="1471.0" cy="128.2" r="10.0" fill="url(#gH)"/><circle cx="1471.0" cy="128.2" r="10.0" fill="#fff" fill-opacity="0.01"/>
<line x1="1400.6" y1="286.6" x2="1402.0" y2="285.8" stroke="#505050" stroke-width="1.15" stroke-linecap="round"/>
<line x1="1199.8" y1="80.5" x2="1201.2" y2="79.7" stroke="#505050" stroke-width="1.15" stroke-linecap="round"/>
<line x1="1419.8" y1="77.3" x2="1421.1" y2="76.5" stroke="#505050" stroke-width="1.15" stroke-linecap="round"/>
<line x1="1399.3" y1="287.4" x2="1400.6" y2="286.6" stroke="#505050" stroke-width="1.15" stroke-linecap="round"/>
<line x1="1198.5" y1="81.3" x2="1199.8" y2="80.5" stroke="#505050" stroke-width="1.15" stroke-linecap="round"/>
<line x1="1418.5" y1="78.1" x2="1419.8" y2="77.3" stroke="#505050" stroke-width="1.15" stroke-linecap="round"/>
<rect transform="translate(1326.1 183.5) rotate(89.0)" x="0" y="-3.8" width="16.9" height="7.6" fill="url(#gb1)"/>
<rect transform="translate(1317.9 159.0) rotate(-174.5)" x="0" y="-3.8" width="16.1" height="7.6" fill="url(#gb1)"/>
<circle cx="1373.7" cy="262.0" r="10.0" fill="url(#gH)"/>
<rect transform="translate(1398.9 103.9) rotate(5.5)" x="0" y="-3.8" width="16.1" height="7.6" fill="url(#gb1)"/>
<line x1="1398.0" y1="288.2" x2="1399.3" y2="287.4" stroke="#505050" stroke-width="1.15" stroke-linecap="round"/>
<line x1="1197.2" y1="82.1" x2="1198.5" y2="81.3" stroke="#505050" stroke-width="1.15" stroke-linecap="round"/>
<line x1="1417.2" y1="78.9" x2="1418.5" y2="78.1" stroke="#505050" stroke-width="1.15" stroke-linecap="round"/>
<rect transform="translate(1453.7 117.6) rotate(31.6)" x="0" y="-3.8" width="12.6" height="7.6" fill="url(#gb1)"/>
<line x1="1181.4" y1="253.2" x2="1181.5" y2="256.4" stroke="#505050" stroke-width="1.15" stroke-linecap="round"/>
<rect transform="translate(1325.8 168.0) rotate(89.0)" x="0" y="-3.8" width="16.9" height="7.6" fill="url(#gb1)"/>
<rect transform="translate(1329.2 215.0) rotate(67.3)" x="0" y="-3.8" width="11.4" height="7.6" fill="url(#gb7)"/>
<line x1="1181.3" y1="249.9" x2="1181.4" y2="253.2" stroke="#505050" stroke-width="1.15" stroke-linecap="round"/>
<rect transform="translate(1473.7 134.6) rotate(67.3)" x="0" y="-3.8" width="11.4" height="7.6" fill="url(#gb7)"/>
<line x1="1181.3" y1="246.6" x2="1181.3" y2="249.9" stroke="#505050" stroke-width="1.15" stroke-linecap="round"/>
<line x1="1396.7" y1="289.0" x2="1398.0" y2="288.2" stroke="#505050" stroke-width="1.15" stroke-linecap="round"/>
<line x1="1195.9" y1="82.9" x2="1197.2" y2="82.1" stroke="#505050" stroke-width="1.15" stroke-linecap="round"/>
<line x1="1415.8" y1="79.7" x2="1417.2" y2="78.9" stroke="#505050" stroke-width="1.15" stroke-linecap="round"/>
<rect transform="translate(1423.5 264.4) rotate(-31.6)" x="0" y="-3.8" width="8.0" height="7.6" fill="url(#gb19)"/>
<line x1="1181.2" y1="243.4" x2="1181.3" y2="246.6" stroke="#505050" stroke-width="1.15" stroke-linecap="round"/>
<line x1="1181.2" y1="240.1" x2="1181.2" y2="243.4" stroke="#505050" stroke-width="1.15" stroke-linecap="round"/>
<line x1="1181.1" y1="236.9" x2="1181.2" y2="240.1" stroke="#505050" stroke-width="1.15" stroke-linecap="round"/>
<circle cx="1325.7" cy="159.7" r="10.0" fill="url(#gH)"/>
<rect transform="translate(1444.0 111.6) rotate(31.6)" x="0" y="-3.8" width="12.6" height="7.6" fill="url(#gb1)"/>
<rect transform="translate(1413.6 105.3) rotate(5.5)" x="0" y="-3.8" width="16.1" height="7.6" fill="url(#gb1)"/>
<line x1="1395.4" y1="289.9" x2="1396.7" y2="289.0" stroke="#505050" stroke-width="1.15" stroke-linecap="round"/>
<line x1="1194.6" y1="83.8" x2="1195.9" y2="82.9" stroke="#505050" stroke-width="1.15" stroke-linecap="round"/>
<line x1="1212.9" y1="292.0" x2="1216.0" y2="292.3" stroke="#505050" stroke-width="1.15" stroke-linecap="round"/>
<circle cx="1405.6" cy="184.8" r="32.1" fill="url(#gCe)"/>
<line x1="1414.5" y1="80.6" x2="1415.8" y2="79.7" stroke="#505050" stroke-width="1.15" stroke-linecap="round"/>
<rect transform="translate(1381.5 262.7) rotate(5.5)" x="0" y="-3.8" width="16.1" height="7.6" fill="url(#gb1)"/>
<line x1="1181.1" y1="233.6" x2="1181.1" y2="236.9" stroke="#505050" stroke-width="1.15" stroke-linecap="round"/>
<rect transform="translate(1356.4 251.3) rotate(31.6)" x="0" y="-3.8" width="12.6" height="7.6" fill="url(#gb1)"/>
<circle cx="1485.5" cy="209.9" r="10.0" fill="url(#gH)"/>
<line x1="1181.0" y1="230.3" x2="1181.1" y2="233.6" stroke="#505050" stroke-width="1.15" stroke-linecap="round"/>
<line x1="1216.0" y1="292.3" x2="1219.1" y2="292.6" stroke="#505050" stroke-width="1.15" stroke-linecap="round"/>
<line x1="1181.0" y1="227.1" x2="1181.0" y2="230.3" stroke="#505050" stroke-width="1.15" stroke-linecap="round"/>
<rect transform="translate(1380.9 109.4) rotate(-31.6)" x="0" y="-3.8" width="8.0" height="7.6" fill="url(#gb14)"/>
<line x1="1219.1" y1="292.6" x2="1222.2" y2="292.9" stroke="#505050" stroke-width="1.15" stroke-linecap="round"/>
<line x1="1180.9" y1="223.8" x2="1181.0" y2="227.1" stroke="#505050" stroke-width="1.15" stroke-linecap="round"/>
<line x1="1394.0" y1="290.7" x2="1395.4" y2="289.9" stroke="#505050" stroke-width="1.15" stroke-linecap="round"/>
<line x1="1193.2" y1="84.6" x2="1194.6" y2="83.8" stroke="#505050" stroke-width="1.15" stroke-linecap="round"/>
<line x1="1413.2" y1="81.4" x2="1414.5" y2="80.6" stroke="#505050" stroke-width="1.15" stroke-linecap="round"/>
<rect transform="translate(1333.1 224.5) rotate(67.3)" x="0" y="-3.8" width="11.4" height="7.6" fill="url(#gb7)"/>
<line x1="1180.8" y1="220.6" x2="1180.9" y2="223.8" stroke="#505050" stroke-width="1.15" stroke-linecap="round"/>
<line x1="1222.2" y1="292.9" x2="1225.3" y2="293.2" stroke="#505050" stroke-width="1.15" stroke-linecap="round"/>
<rect transform="translate(1477.6 144.1) rotate(67.3)" x="0" y="-3.8" width="11.4" height="7.6" fill="url(#gb7)"/>
<line x1="1180.8" y1="217.3" x2="1180.8" y2="220.6" stroke="#505050" stroke-width="1.15" stroke-linecap="round"/>
<rect transform="translate(1485.1 184.7) rotate(89.0)" x="0" y="-3.8" width="16.9" height="7.6" fill="url(#gb1)"/>
<line x1="1225.3" y1="293.2" x2="1228.4" y2="293.5" stroke="#505050" stroke-width="1.15" stroke-linecap="round"/>
<line x1="1180.7" y1="214.1" x2="1180.8" y2="217.3" stroke="#505050" stroke-width="1.15" stroke-linecap="round"/>
<rect transform="translate(1346.7 245.4) rotate(31.6)" x="0" y="-3.8" width="12.6" height="7.6" fill="url(#gb1)"/>
<line x1="1392.7" y1="291.5" x2="1394.0" y2="290.7" stroke="#505050" stroke-width="1.15" stroke-linecap="round"/>
<line x1="1191.9" y1="85.4" x2="1193.2" y2="84.6" stroke="#505050" stroke-width="1.15" stroke-linecap="round"/>
<line x1="1411.9" y1="82.2" x2="1413.2" y2="81.4" stroke="#505050" stroke-width="1.15" stroke-linecap="round"/>
<line x1="1180.7" y1="210.8" x2="1180.7" y2="214.1" stroke="#505050" stroke-width="1.15" stroke-linecap="round"/>
<rect transform="translate(1396.3 264.1) rotate(5.5)" x="0" y="-3.8" width="16.1" height="7.6" fill="url(#gb1)"/>
<line x1="1228.4" y1="293.5" x2="1231.5" y2="293.8" stroke="#505050" stroke-width="1.15" stroke-linecap="round"/>
<circle cx="1437.5" cy="107.6" r="10.0" fill="url(#gH)"/>
<line x1="1180.6" y1="207.5" x2="1180.7" y2="210.8" stroke="#505050" stroke-width="1.15" stroke-linecap="round"/>
<line x1="1231.5" y1="293.8" x2="1234.6" y2="294.1" stroke="#505050" stroke-width="1.15" stroke-linecap="round"/>
<line x1="1180.6" y1="204.3" x2="1180.6" y2="207.5" stroke="#505050" stroke-width="1.15" stroke-linecap="round"/>
<rect transform="translate(1484.8 169.2) rotate(89.0)" x="0" y="-3.8" width="16.9" height="7.6" fill="url(#gb1)"/>
<line x1="1180.5" y1="201.0" x2="1180.6" y2="204.3" stroke="#505050" stroke-width="1.15" stroke-linecap="round"/>
<line x1="1391.4" y1="292.3" x2="1392.7" y2="291.5" stroke="#505050" stroke-width="1.15" stroke-linecap="round"/>
<line x1="1234.6" y1="294.1" x2="1237.7" y2="294.4" stroke="#505050" stroke-width="1.15" stroke-linecap="round"/>
<line x1="1410.6" y1="83.0" x2="1411.9" y2="82.2" stroke="#505050" stroke-width="1.15" stroke-linecap="round"/>
<line x1="1180.5" y1="197.8" x2="1180.5" y2="201.0" stroke="#505050" stroke-width="1.15" stroke-linecap="round"/>
<line x1="1237.7" y1="294.4" x2="1240.8" y2="294.7" stroke="#505050" stroke-width="1.15" stroke-linecap="round"/>
<line x1="1180.4" y1="194.5" x2="1180.5" y2="197.8" stroke="#505050" stroke-width="1.15" stroke-linecap="round"/>
<line x1="1180.4" y1="191.2" x2="1180.4" y2="194.5" stroke="#505050" stroke-width="1.15" stroke-linecap="round"/>
<line x1="1240.8" y1="294.7" x2="1243.9" y2="295.0" stroke="#505050" stroke-width="1.15" stroke-linecap="round"/>
<line x1="1390.1" y1="293.1" x2="1391.4" y2="292.3" stroke="#505050" stroke-width="1.15" stroke-linecap="round"/>
<line x1="1409.2" y1="83.8" x2="1410.6" y2="83.0" stroke="#505050" stroke-width="1.15" stroke-linecap="round"/>
<line x1="1180.3" y1="188.0" x2="1180.4" y2="191.2" stroke="#505050" stroke-width="1.15" stroke-linecap="round"/>
<circle cx="1340.2" cy="241.4" r="10.0" fill="url(#gH)"/>
<line x1="1243.9" y1="295.0" x2="1247.0" y2="295.3" stroke="#505050" stroke-width="1.15" stroke-linecap="round"/>
<circle cx="1420.1" cy="266.4" r="10.0" fill="url(#gH)"/>
<line x1="1180.2" y1="184.7" x2="1180.3" y2="188.0" stroke="#505050" stroke-width="1.15" stroke-linecap="round"/>
<circle cx="1484.7" cy="161.0" r="10.0" fill="url(#gH)"/>
<rect transform="translate(1328.2 156.6) rotate(-51.4)" x="0" y="-3.8" width="6.6" height="7.6" fill="url(#gb2)"/>
<line x1="1180.2" y1="181.5" x2="1180.2" y2="184.7" stroke="#505050" stroke-width="1.15" stroke-linecap="round"/>
<line x1="1247.0" y1="295.3" x2="1250.1" y2="295.6" stroke="#505050" stroke-width="1.15" stroke-linecap="round"/>
<line x1="1180.1" y1="178.2" x2="1180.2" y2="181.5" stroke="#505050" stroke-width="1.15" stroke-linecap="round"/>
<line x1="1388.7" y1="293.9" x2="1390.1" y2="293.1" stroke="#505050" stroke-width="1.15" stroke-linecap="round"/>
<line x1="1407.9" y1="84.6" x2="1409.2" y2="83.8" stroke="#505050" stroke-width="1.15" stroke-linecap="round"/>
<line x1="1250.1" y1="295.6" x2="1253.1" y2="295.9" stroke="#505050" stroke-width="1.15" stroke-linecap="round"/>
<line x1="1180.1" y1="175.0" x2="1180.1" y2="178.2" stroke="#505050" stroke-width="1.15" stroke-linecap="round"/>
<rect transform="translate(1475.3 216.1) rotate(-31.6)" x="0" y="-3.8" width="8.0" height="7.6" fill="url(#gb14)"/>
<line x1="1180.0" y1="171.7" x2="1180.1" y2="175.0" stroke="#505050" stroke-width="1.15" stroke-linecap="round"/>
<rect transform="translate(1374.6 113.3) rotate(-31.6)" x="0" y="-3.8" width="8.0" height="7.6" fill="url(#gb14)"/>
<line x1="1253.1" y1="295.9" x2="1256.2" y2="296.2" stroke="#505050" stroke-width="1.15" stroke-linecap="round"/>
<line x1="1180.0" y1="168.4" x2="1180.0" y2="171.7" stroke="#505050" stroke-width="1.15" stroke-linecap="round"/>
<line x1="1387.4" y1="294.7" x2="1388.7" y2="293.9" stroke="#505050" stroke-width="1.15" stroke-linecap="round"/>
<line x1="1406.6" y1="85.4" x2="1407.9" y2="84.6" stroke="#505050" stroke-width="1.15" stroke-linecap="round"/>
<line x1="1256.2" y1="296.2" x2="1259.3" y2="296.5" stroke="#505050" stroke-width="1.15" stroke-linecap="round"/>
<line x1="1179.9" y1="165.2" x2="1180.0" y2="168.4" stroke="#505050" stroke-width="1.15" stroke-linecap="round"/>
<line x1="1179.9" y1="161.9" x2="1179.9" y2="165.2" stroke="#505050" stroke-width="1.15" stroke-linecap="round"/>
<line x1="1259.3" y1="296.5" x2="1262.4" y2="296.8" stroke="#505050" stroke-width="1.15" stroke-linecap="round"/>
<line x1="1179.8" y1="158.7" x2="1179.9" y2="161.9" stroke="#505050" stroke-width="1.15" stroke-linecap="round"/>
<line x1="1262.4" y1="296.8" x2="1265.5" y2="297.1" stroke="#505050" stroke-width="1.15" stroke-linecap="round"/>
<line x1="1179.7" y1="155.4" x2="1179.8" y2="158.7" stroke="#505050" stroke-width="1.15" stroke-linecap="round"/>
<line x1="1386.1" y1="295.5" x2="1387.4" y2="294.7" stroke="#505050" stroke-width="1.15" stroke-linecap="round"/>
<line x1="1405.3" y1="86.2" x2="1406.6" y2="85.4" stroke="#505050" stroke-width="1.15" stroke-linecap="round"/>
<line x1="1179.7" y1="152.2" x2="1179.7" y2="155.4" stroke="#505050" stroke-width="1.15" stroke-linecap="round"/>
<rect transform="translate(1427.3 113.9) rotate(-31.6)" x="0" y="-3.8" width="8.0" height="7.6" fill="url(#gb14)"/>
<line x1="1265.5" y1="297.1" x2="1268.6" y2="297.4" stroke="#505050" stroke-width="1.15" stroke-linecap="round"/>
<line x1="1179.6" y1="148.9" x2="1179.7" y2="152.2" stroke="#505050" stroke-width="1.15" stroke-linecap="round"/>
<line x1="1179.6" y1="145.6" x2="1179.6" y2="148.9" stroke="#505050" stroke-width="1.15" stroke-linecap="round"/>
<line x1="1268.6" y1="297.4" x2="1271.7" y2="297.7" stroke="#505050" stroke-width="1.15" stroke-linecap="round"/>
<line x1="1384.8" y1="296.3" x2="1386.1" y2="295.5" stroke="#505050" stroke-width="1.15" stroke-linecap="round"/>
<line x1="1404.0" y1="87.0" x2="1405.3" y2="86.2" stroke="#505050" stroke-width="1.15" stroke-linecap="round"/>
<line x1="1179.5" y1="142.4" x2="1179.6" y2="145.6" stroke="#505050" stroke-width="1.15" stroke-linecap="round"/>
<rect transform="translate(1331.9 151.9) rotate(-51.4)" x="0" y="-3.8" width="6.6" height="7.6" fill="url(#gb2)"/>
<line x1="1271.7" y1="297.7" x2="1274.8" y2="298.0" stroke="#505050" stroke-width="1.15" stroke-linecap="round"/>
<line x1="1179.5" y1="139.1" x2="1179.5" y2="142.4" stroke="#505050" stroke-width="1.15" stroke-linecap="round"/>
<line x1="1179.4" y1="135.9" x2="1179.5" y2="139.1" stroke="#505050" stroke-width="1.15" stroke-linecap="round"/>
<line x1="1274.8" y1="298.0" x2="1277.9" y2="298.2" stroke="#505050" stroke-width="1.15" stroke-linecap="round"/>
<rect transform="translate(1342.7 238.2) rotate(-51.4)" x="0" y="-3.8" width="6.6" height="7.6" fill="url(#gb2)"/>
<line x1="1179.4" y1="132.6" x2="1179.4" y2="135.9" stroke="#505050" stroke-width="1.15" stroke-linecap="round"/>
<rect transform="translate(1422.6 263.3) rotate(-51.4)" x="0" y="-3.8" width="6.6" height="7.6" fill="url(#gb2)"/>
<line x1="1383.5" y1="297.2" x2="1384.8" y2="296.3" stroke="#505050" stroke-width="1.15" stroke-linecap="round"/>
<line x1="1402.6" y1="87.9" x2="1404.0" y2="87.0" stroke="#505050" stroke-width="1.15" stroke-linecap="round"/>
<line x1="1277.9" y1="298.2" x2="1281.0" y2="298.5" stroke="#505050" stroke-width="1.15" stroke-linecap="round"/>
<line x1="1179.3" y1="129.3" x2="1179.4" y2="132.6" stroke="#505050" stroke-width="1.15" stroke-linecap="round"/>
<line x1="1179.2" y1="126.1" x2="1179.3" y2="129.3" stroke="#505050" stroke-width="1.15" stroke-linecap="round"/>
<rect transform="translate(1474.5 167.2) rotate(-31.6)" x="0" y="-3.8" width="8.0" height="7.6" fill="url(#gb14)"/>
<line x1="1281.0" y1="298.5" x2="1284.1" y2="298.8" stroke="#505050" stroke-width="1.15" stroke-linecap="round"/>
<line x1="1284.1" y1="298.8" x2="1287.2" y2="299.1" stroke="#505050" stroke-width="1.15" stroke-linecap="round"/>
<line x1="1382.1" y1="298.0" x2="1383.5" y2="297.2" stroke="#505050" stroke-width="1.15" stroke-linecap="round"/>
<rect transform="translate(1469.0 220.0) rotate(-31.6)" x="0" y="-3.8" width="8.0" height="7.6" fill="url(#gb14)"/>
<line x1="1401.3" y1="88.7" x2="1402.6" y2="87.9" stroke="#505050" stroke-width="1.15" stroke-linecap="round"/>
<line x1="1287.2" y1="299.1" x2="1290.3" y2="299.4" stroke="#505050" stroke-width="1.15" stroke-linecap="round"/>
<circle cx="1371.2" cy="115.3" r="10.0" fill="url(#gH)"/>
<line x1="1290.3" y1="299.4" x2="1293.4" y2="299.7" stroke="#505050" stroke-width="1.15" stroke-linecap="round"/>
<line x1="1380.8" y1="298.8" x2="1382.1" y2="298.0" stroke="#505050" stroke-width="1.15" stroke-linecap="round"/>
<line x1="1400.0" y1="89.5" x2="1401.3" y2="88.7" stroke="#505050" stroke-width="1.15" stroke-linecap="round"/>
<line x1="1293.4" y1="299.7" x2="1296.5" y2="300.0" stroke="#505050" stroke-width="1.15" stroke-linecap="round"/>
<rect transform="translate(1354.4 129.9) rotate(-40.9)" x="0" y="-3.8" width="13.9" height="7.6" fill="url(#gb1)"/>
<line x1="1296.5" y1="300.0" x2="1299.5" y2="300.3" stroke="#505050" stroke-width="1.15" stroke-linecap="round"/>
<rect transform="translate(1344.9 138.1) rotate(-40.9)" x="0" y="-3.8" width="13.9" height="7.6" fill="url(#gb1)"/>
<line x1="1398.7" y1="90.3" x2="1400.0" y2="89.5" stroke="#505050" stroke-width="1.15" stroke-linecap="round"/>
<rect transform="translate(1421.0 117.8) rotate(-31.6)" x="0" y="-3.8" width="8.0" height="7.6" fill="url(#gb14)"/>
<line x1="1299.5" y1="300.3" x2="1302.6" y2="300.6" stroke="#505050" stroke-width="1.15" stroke-linecap="round"/>
<circle cx="1178.7" cy="93.5" r="32.1" fill="url(#gCe)"/>
<rect transform="translate(1346.4 233.6) rotate(-51.4)" x="0" y="-3.8" width="6.6" height="7.6" fill="url(#gb2)"/>
<line x1="1302.6" y1="300.6" x2="1305.7" y2="300.9" stroke="#505050" stroke-width="1.15" stroke-linecap="round"/>
<rect transform="translate(1426.4 258.6) rotate(-51.4)" x="0" y="-3.8" width="6.6" height="7.6" fill="url(#gb2)"/>
<circle cx="1338.5" cy="143.6" r="10.0" fill="url(#gH)"/>
<rect transform="translate(1379.1 116.1) rotate(5.5)" x="0" y="-3.8" width="16.1" height="7.6" fill="url(#gb1)"/>
<line x1="1305.7" y1="300.9" x2="1308.8" y2="301.2" stroke="#505050" stroke-width="1.15" stroke-linecap="round"/>
<line x1="1397.3" y1="91.1" x2="1398.7" y2="90.3" stroke="#505050" stroke-width="1.15" stroke-linecap="round"/>
<line x1="1308.8" y1="301.2" x2="1311.9" y2="301.5" stroke="#505050" stroke-width="1.15" stroke-linecap="round"/>
<line x1="1311.9" y1="301.5" x2="1315.0" y2="301.8" stroke="#505050" stroke-width="1.15" stroke-linecap="round"/>
<line x1="1396.0" y1="91.9" x2="1397.3" y2="91.1" stroke="#505050" stroke-width="1.15" stroke-linecap="round"/>
<rect transform="translate(1468.2 171.1) rotate(-31.6)" x="0" y="-3.8" width="8.0" height="7.6" fill="url(#gb14)"/>
<line x1="1315.0" y1="301.8" x2="1318.1" y2="302.1" stroke="#505050" stroke-width="1.15" stroke-linecap="round"/>
<line x1="1318.1" y1="302.1" x2="1321.2" y2="302.4" stroke="#505050" stroke-width="1.15" stroke-linecap="round"/>
<rect transform="translate(1393.8 117.5) rotate(5.5)" x="0" y="-3.8" width="16.1" height="7.6" fill="url(#gb1)"/>
<line x1="1394.7" y1="92.7" x2="1396.0" y2="91.9" stroke="#505050" stroke-width="1.15" stroke-linecap="round"/>
<circle cx="1465.7" cy="222.0" r="10.0" fill="url(#gH)"/>
<line x1="1321.2" y1="302.4" x2="1324.3" y2="302.7" stroke="#505050" stroke-width="1.15" stroke-linecap="round"/>
<line x1="1324.3" y1="302.7" x2="1327.4" y2="303.0" stroke="#505050" stroke-width="1.15" stroke-linecap="round"/>
<rect transform="translate(1341.2 150.0) rotate(67.3)" x="0" y="-3.8" width="11.4" height="7.6" fill="url(#gb7)"/>
<rect transform="translate(1448.8 236.6) rotate(-40.9)" x="0" y="-3.8" width="13.9" height="7.6" fill="url(#gb1)"/>
<line x1="1393.4" y1="93.5" x2="1394.7" y2="92.7" stroke="#505050" stroke-width="1.15" stroke-linecap="round"/>
<line x1="1327.4" y1="303.0" x2="1330.5" y2="303.3" stroke="#505050" stroke-width="1.15" stroke-linecap="round"/>
<line x1="1330.5" y1="303.3" x2="1333.6" y2="303.6" stroke="#505050" stroke-width="1.15" stroke-linecap="round"/>
<rect transform="translate(1439.4 244.8) rotate(-40.9)" x="0" y="-3.8" width="13.9" height="7.6" fill="url(#gb1)"/>
<rect transform="translate(1465.3 196.9) rotate(89.0)" x="0" y="-3.8" width="16.9" height="7.6" fill="url(#gb1)"/>
<line x1="1333.6" y1="303.6" x2="1336.7" y2="303.9" stroke="#505050" stroke-width="1.15" stroke-linecap="round"/>
<circle cx="1273.2" cy="200.2" r="32.1" fill="url(#gCe)"/>
<line x1="1392.1" y1="94.4" x2="1393.4" y2="93.5" stroke="#505050" stroke-width="1.15" stroke-linecap="round"/>
<line x1="1209.6" y1="96.5" x2="1212.7" y2="96.8" stroke="#505050" stroke-width="1.15" stroke-linecap="round"/>
<circle cx="1353.1" cy="225.3" r="10.0" fill="url(#gH)"/>
<circle cx="1417.7" cy="119.8" r="10.0" fill="url(#gH)"/>
<circle cx="1433.0" cy="250.3" r="10.0" fill="url(#gH)"/>
<line x1="1212.7" y1="96.8" x2="1215.8" y2="97.1" stroke="#505050" stroke-width="1.15" stroke-linecap="round"/>
<line x1="1215.8" y1="97.1" x2="1218.9" y2="97.4" stroke="#505050" stroke-width="1.15" stroke-linecap="round"/>
<rect transform="translate(1465.0 181.4) rotate(89.0)" x="0" y="-3.8" width="16.9" height="7.6" fill="url(#gb1)"/>
<line x1="1390.7" y1="95.2" x2="1392.1" y2="94.4" stroke="#505050" stroke-width="1.15" stroke-linecap="round"/>
<rect transform="translate(1345.2 159.5) rotate(67.3)" x="0" y="-3.8" width="11.4" height="7.6" fill="url(#gb7)"/>
<line x1="1218.9" y1="97.4" x2="1222.0" y2="97.7" stroke="#505050" stroke-width="1.15" stroke-linecap="round"/>
<rect transform="translate(1352.7 200.1) rotate(89.0)" x="0" y="-3.8" width="16.9" height="7.6" fill="url(#gb1)"/>
<line x1="1222.0" y1="97.7" x2="1225.1" y2="98.0" stroke="#505050" stroke-width="1.15" stroke-linecap="round"/>
<line x1="1389.4" y1="96.0" x2="1390.7" y2="95.2" stroke="#505050" stroke-width="1.15" stroke-linecap="round"/>
<line x1="1225.1" y1="98.0" x2="1228.2" y2="98.3" stroke="#505050" stroke-width="1.15" stroke-linecap="round"/>
<rect transform="translate(1360.9 226.0) rotate(5.5)" x="0" y="-3.8" width="16.1" height="7.6" fill="url(#gb1)"/>
<circle cx="1464.9" cy="173.2" r="10.0" fill="url(#gH)"/>
<rect transform="translate(1415.7 239.7) rotate(31.6)" x="0" y="-3.8" width="12.6" height="7.6" fill="url(#gb1)"/>
<line x1="1228.2" y1="98.3" x2="1231.3" y2="98.6" stroke="#505050" stroke-width="1.15" stroke-linecap="round"/>
<rect transform="translate(1352.4 184.6) rotate(89.0)" x="0" y="-3.8" width="16.9" height="7.6" fill="url(#gb1)"/>
<line x1="1388.1" y1="96.8" x2="1389.4" y2="96.0" stroke="#505050" stroke-width="1.15" stroke-linecap="round"/>
<line x1="1231.3" y1="98.6" x2="1234.4" y2="98.9" stroke="#505050" stroke-width="1.15" stroke-linecap="round"/>
<rect transform="translate(1420.3 126.2) rotate(67.3)" x="0" y="-3.8" width="11.4" height="7.6" fill="url(#gb7)"/>
<line x1="1234.4" y1="98.9" x2="1237.5" y2="99.2" stroke="#505050" stroke-width="1.15" stroke-linecap="round"/>
<line x1="1237.5" y1="99.2" x2="1240.6" y2="99.5" stroke="#505050" stroke-width="1.15" stroke-linecap="round"/>
<line x1="1386.8" y1="97.6" x2="1388.1" y2="96.8" stroke="#505050" stroke-width="1.15" stroke-linecap="round"/>
<rect transform="translate(1406.0 233.7) rotate(31.6)" x="0" y="-3.8" width="12.6" height="7.6" fill="url(#gb1)"/>
<circle cx="1352.2" cy="176.4" r="10.0" fill="url(#gH)"/>
<line x1="1240.6" y1="99.5" x2="1243.7" y2="99.8" stroke="#505050" stroke-width="1.15" stroke-linecap="round"/>
<rect transform="translate(1375.6 227.4) rotate(5.5)" x="0" y="-3.8" width="16.1" height="7.6" fill="url(#gb1)"/>
<circle cx="1367.6" cy="306.9" r="32.1" fill="url(#gCe)"/>
<rect transform="translate(1447.6 162.5) rotate(31.6)" x="0" y="-3.8" width="12.6" height="7.6" fill="url(#gb1)"/>
<line x1="1243.7" y1="99.8" x2="1246.8" y2="100.1" stroke="#505050" stroke-width="1.15" stroke-linecap="round"/>
<line x1="1385.4" y1="98.4" x2="1386.8" y2="97.6" stroke="#505050" stroke-width="1.15" stroke-linecap="round"/>
<line x1="1246.8" y1="100.1" x2="1249.8" y2="100.4" stroke="#505050" stroke-width="1.15" stroke-linecap="round"/>
<line x1="1249.8" y1="100.4" x2="1252.9" y2="100.7" stroke="#505050" stroke-width="1.15" stroke-linecap="round"/>
<rect transform="translate(1424.3 135.7) rotate(67.3)" x="0" y="-3.8" width="11.4" height="7.6" fill="url(#gb7)"/>
<line x1="1384.1" y1="99.2" x2="1385.4" y2="98.4" stroke="#505050" stroke-width="1.15" stroke-linecap="round"/>
<line x1="1252.9" y1="100.7" x2="1256.0" y2="101.0" stroke="#505050" stroke-width="1.15" stroke-linecap="round"/>
<rect transform="translate(1437.9 156.6) rotate(31.6)" x="0" y="-3.8" width="12.6" height="7.6" fill="url(#gb1)"/>
<line x1="1256.0" y1="101.0" x2="1259.1" y2="101.3" stroke="#505050" stroke-width="1.15" stroke-linecap="round"/>
<rect transform="translate(1360.1 177.1) rotate(5.5)" x="0" y="-3.8" width="16.1" height="7.6" fill="url(#gb1)"/>
<circle cx="1399.5" cy="229.7" r="10.0" fill="url(#gH)"/>
<line x1="1259.1" y1="101.3" x2="1262.2" y2="101.6" stroke="#505050" stroke-width="1.15" stroke-linecap="round"/>
<line x1="1382.8" y1="100.0" x2="1384.1" y2="99.2" stroke="#505050" stroke-width="1.15" stroke-linecap="round"/>
<line x1="1262.2" y1="101.6" x2="1265.3" y2="101.9" stroke="#505050" stroke-width="1.15" stroke-linecap="round"/>
<line x1="1367.0" y1="271.1" x2="1367.0" y2="274.3" stroke="#505050" stroke-width="1.15" stroke-linecap="round"/>
<line x1="1366.9" y1="267.8" x2="1367.0" y2="271.1" stroke="#505050" stroke-width="1.15" stroke-linecap="round"/>
<line x1="1265.3" y1="101.9" x2="1268.4" y2="102.2" stroke="#505050" stroke-width="1.15" stroke-linecap="round"/>
<line x1="1366.9" y1="264.5" x2="1366.9" y2="267.8" stroke="#505050" stroke-width="1.15" stroke-linecap="round"/>
<line x1="1381.5" y1="100.8" x2="1382.8" y2="100.0" stroke="#505050" stroke-width="1.15" stroke-linecap="round"/>
<rect transform="translate(1399.1 204.6) rotate(89.0)" x="0" y="-3.8" width="16.9" height="7.6" fill="url(#gb1)"/>
<line x1="1268.4" y1="102.2" x2="1271.5" y2="102.5" stroke="#505050" stroke-width="1.15" stroke-linecap="round"/>
<line x1="1366.8" y1="261.3" x2="1366.9" y2="264.5" stroke="#505050" stroke-width="1.15" stroke-linecap="round"/>
<line x1="1366.8" y1="258.0" x2="1366.8" y2="261.3" stroke="#505050" stroke-width="1.15" stroke-linecap="round"/>
<rect transform="translate(1374.8 178.6) rotate(5.5)" x="0" y="-3.8" width="16.1" height="7.6" fill="url(#gb1)"/>
<line x1="1271.5" y1="102.5" x2="1274.6" y2="102.7" stroke="#505050" stroke-width="1.15" stroke-linecap="round"/>
<circle cx="1431.3" cy="152.6" r="10.0" fill="url(#gH)"/>
<line x1="1366.7" y1="254.8" x2="1366.8" y2="258.0" stroke="#505050" stroke-width="1.15" stroke-linecap="round"/>
<line x1="1380.2" y1="101.7" x2="1381.5" y2="100.8" stroke="#505050" stroke-width="1.15" stroke-linecap="round"/>
<line x1="1274.6" y1="102.7" x2="1277.7" y2="103.0" stroke="#505050" stroke-width="1.15" stroke-linecap="round"/>
<line x1="1366.7" y1="251.5" x2="1366.7" y2="254.8" stroke="#505050" stroke-width="1.15" stroke-linecap="round"/>
<rect transform="translate(1398.8 189.1) rotate(89.0)" x="0" y="-3.8" width="16.9" height="7.6" fill="url(#gb1)"/>
<line x1="1366.6" y1="248.2" x2="1366.7" y2="251.5" stroke="#505050" stroke-width="1.15" stroke-linecap="round"/>
<rect transform="translate(1414.5 167.2) rotate(-40.9)" x="0" y="-3.8" width="13.9" height="7.6" fill="url(#gb1)"/>
<line x1="1277.7" y1="103.0" x2="1280.8" y2="103.3" stroke="#505050" stroke-width="1.15" stroke-linecap="round"/>
<line x1="1366.6" y1="245.0" x2="1366.6" y2="248.2" stroke="#505050" stroke-width="1.15" stroke-linecap="round"/>
<line x1="1366.5" y1="241.7" x2="1366.6" y2="245.0" stroke="#505050" stroke-width="1.15" stroke-linecap="round"/>
<line x1="1280.8" y1="103.3" x2="1283.9" y2="103.6" stroke="#505050" stroke-width="1.15" stroke-linecap="round"/>
<line x1="1378.8" y1="102.5" x2="1380.2" y2="101.7" stroke="#505050" stroke-width="1.15" stroke-linecap="round"/>
<rect transform="translate(1405.0 175.4) rotate(-40.9)" x="0" y="-3.8" width="13.9" height="7.6" fill="url(#gb1)"/>
<line x1="1366.4" y1="238.5" x2="1366.5" y2="241.7" stroke="#505050" stroke-width="1.15" stroke-linecap="round"/>
<line x1="1283.9" y1="103.6" x2="1287.0" y2="103.9" stroke="#505050" stroke-width="1.15" stroke-linecap="round"/>
<line x1="1366.4" y1="235.2" x2="1366.4" y2="238.5" stroke="#505050" stroke-width="1.15" stroke-linecap="round"/>
<line x1="1366.3" y1="232.0" x2="1366.4" y2="235.2" stroke="#505050" stroke-width="1.15" stroke-linecap="round"/>
<circle cx="1398.7" cy="180.9" r="10.0" fill="url(#gH)"/>
<line x1="1287.0" y1="103.9" x2="1290.1" y2="104.2" stroke="#505050" stroke-width="1.15" stroke-linecap="round"/>
<line x1="1377.5" y1="103.3" x2="1378.8" y2="102.5" stroke="#505050" stroke-width="1.15" stroke-linecap="round"/>
<line x1="1366.3" y1="228.7" x2="1366.3" y2="232.0" stroke="#505050" stroke-width="1.15" stroke-linecap="round"/>
<line x1="1290.1" y1="104.2" x2="1293.2" y2="104.5" stroke="#505050" stroke-width="1.15" stroke-linecap="round"/>
<line x1="1366.2" y1="225.4" x2="1366.3" y2="228.7" stroke="#505050" stroke-width="1.15" stroke-linecap="round"/>
<line x1="1366.2" y1="222.2" x2="1366.2" y2="225.4" stroke="#505050" stroke-width="1.15" stroke-linecap="round"/>
<line x1="1293.2" y1="104.5" x2="1296.2" y2="104.8" stroke="#505050" stroke-width="1.15" stroke-linecap="round"/>
<line x1="1366.1" y1="218.9" x2="1366.2" y2="222.2" stroke="#505050" stroke-width="1.15" stroke-linecap="round"/>
<line x1="1296.2" y1="104.8" x2="1299.3" y2="105.1" stroke="#505050" stroke-width="1.15" stroke-linecap="round"/>
<line x1="1366.1" y1="215.7" x2="1366.1" y2="218.9" stroke="#505050" stroke-width="1.15" stroke-linecap="round"/>
<line x1="1366.0" y1="212.4" x2="1366.1" y2="215.7" stroke="#505050" stroke-width="1.15" stroke-linecap="round"/>
<line x1="1299.3" y1="105.1" x2="1302.4" y2="105.4" stroke="#505050" stroke-width="1.15" stroke-linecap="round"/>
<line x1="1366.0" y1="209.2" x2="1366.0" y2="212.4" stroke="#505050" stroke-width="1.15" stroke-linecap="round"/>
<line x1="1302.4" y1="105.4" x2="1305.5" y2="105.7" stroke="#505050" stroke-width="1.15" stroke-linecap="round"/>
<line x1="1365.9" y1="205.9" x2="1366.0" y2="209.2" stroke="#505050" stroke-width="1.15" stroke-linecap="round"/>
<line x1="1365.8" y1="202.6" x2="1365.9" y2="205.9" stroke="#505050" stroke-width="1.15" stroke-linecap="round"/>
<line x1="1305.5" y1="105.7" x2="1308.6" y2="106.0" stroke="#505050" stroke-width="1.15" stroke-linecap="round"/>
<line x1="1365.8" y1="199.4" x2="1365.8" y2="202.6" stroke="#505050" stroke-width="1.15" stroke-linecap="round"/>
<line x1="1308.6" y1="106.0" x2="1311.7" y2="106.3" stroke="#505050" stroke-width="1.15" stroke-linecap="round"/>
<line x1="1365.7" y1="196.1" x2="1365.8" y2="199.4" stroke="#505050" stroke-width="1.15" stroke-linecap="round"/>
<line x1="1365.7" y1="192.9" x2="1365.7" y2="196.1" stroke="#505050" stroke-width="1.15" stroke-linecap="round"/>
<line x1="1311.7" y1="106.3" x2="1314.8" y2="106.6" stroke="#505050" stroke-width="1.15" stroke-linecap="round"/>
<line x1="1365.6" y1="189.6" x2="1365.7" y2="192.9" stroke="#505050" stroke-width="1.15" stroke-linecap="round"/>
<line x1="1314.8" y1="106.6" x2="1317.9" y2="106.9" stroke="#505050" stroke-width="1.15" stroke-linecap="round"/>
<line x1="1365.6" y1="186.3" x2="1365.6" y2="189.6" stroke="#505050" stroke-width="1.15" stroke-linecap="round"/>
<line x1="1365.5" y1="183.1" x2="1365.6" y2="186.3" stroke="#505050" stroke-width="1.15" stroke-linecap="round"/>
<line x1="1317.9" y1="106.9" x2="1321.0" y2="107.2" stroke="#505050" stroke-width="1.15" stroke-linecap="round"/>
<line x1="1365.5" y1="179.8" x2="1365.5" y2="183.1" stroke="#505050" stroke-width="1.15" stroke-linecap="round"/>
<line x1="1321.0" y1="107.2" x2="1324.1" y2="107.5" stroke="#505050" stroke-width="1.15" stroke-linecap="round"/>
<line x1="1365.4" y1="176.6" x2="1365.5" y2="179.8" stroke="#505050" stroke-width="1.15" stroke-linecap="round"/>
<line x1="1365.3" y1="173.3" x2="1365.4" y2="176.6" stroke="#505050" stroke-width="1.15" stroke-linecap="round"/>
<line x1="1324.1" y1="107.5" x2="1327.2" y2="107.8" stroke="#505050" stroke-width="1.15" stroke-linecap="round"/>
<line x1="1365.3" y1="170.1" x2="1365.3" y2="173.3" stroke="#505050" stroke-width="1.15" stroke-linecap="round"/>
<line x1="1327.2" y1="107.8" x2="1330.3" y2="108.1" stroke="#505050" stroke-width="1.15" stroke-linecap="round"/>
<line x1="1365.2" y1="166.8" x2="1365.3" y2="170.1" stroke="#505050" stroke-width="1.15" stroke-linecap="round"/>
<line x1="1365.2" y1="163.5" x2="1365.2" y2="166.8" stroke="#505050" stroke-width="1.15" stroke-linecap="round"/>
<line x1="1330.3" y1="108.1" x2="1333.4" y2="108.4" stroke="#505050" stroke-width="1.15" stroke-linecap="round"/>
<line x1="1365.1" y1="160.3" x2="1365.2" y2="163.5" stroke="#505050" stroke-width="1.15" stroke-linecap="round"/>
<line x1="1365.1" y1="157.0" x2="1365.1" y2="160.3" stroke="#505050" stroke-width="1.15" stroke-linecap="round"/>
<line x1="1365.0" y1="153.8" x2="1365.1" y2="157.0" stroke="#505050" stroke-width="1.15" stroke-linecap="round"/>
<line x1="1365.0" y1="150.5" x2="1365.0" y2="153.8" stroke="#505050" stroke-width="1.15" stroke-linecap="round"/>
<line x1="1364.9" y1="147.2" x2="1365.0" y2="150.5" stroke="#505050" stroke-width="1.15" stroke-linecap="round"/>
<line x1="1364.9" y1="144.0" x2="1364.9" y2="147.2" stroke="#505050" stroke-width="1.15" stroke-linecap="round"/>
<circle cx="1364.3" cy="111.4" r="32.1" fill="url(#gCe)"/></g>
<g id="structB"><circle cx="1297.0" cy="529.8" r="10.6" fill="url(#gH)"/><circle cx="1297.0" cy="529.8" r="10.6" fill="#fff" fill-opacity="0.21"/>
<rect transform="translate(1297.0 521.8) rotate(-90.2)" x="0" y="-5.9" width="30.1" height="11.8" fill="url(#gb43)"/>
<rect transform="translate(1304.9 530.0) rotate(1.6)" x="0" y="-5.9" width="29.7" height="11.8" fill="url(#gb44)"/>
<rect transform="translate(1274.3 551.6) rotate(-43.8)" x="0" y="-5.9" width="23.8" height="11.8" fill="url(#gb34)"/>
<rect transform="translate(1296.9 493.1) rotate(-90.2)" x="0" y="-5.9" width="30.1" height="11.8" fill="url(#gb43)"/>
<rect transform="translate(1333.2 530.8) rotate(1.6)" x="0" y="-5.9" width="29.7" height="11.8" fill="url(#gb44)"/>
<circle cx="1296.7" cy="455.1" r="10.6" fill="url(#gH)"/><circle cx="1296.7" cy="455.1" r="10.6" fill="#fff" fill-opacity="0.20"/>
<circle cx="1370.9" cy="531.9" r="10.6" fill="url(#gH)"/><circle cx="1370.9" cy="531.9" r="10.6" fill="#fff" fill-opacity="0.20"/>
<rect transform="translate(1258.1 567.1) rotate(-43.8)" x="0" y="-5.9" width="23.8" height="11.8" fill="url(#gb34)"/>
<rect transform="translate(1304.7 455.3) rotate(1.6)" x="0" y="-5.9" width="29.7" height="11.8" fill="url(#gb45)"/>
<rect transform="translate(1370.8 523.9) rotate(-90.2)" x="0" y="-5.9" width="30.1" height="11.8" fill="url(#gb45)"/>
<circle cx="1252.6" cy="572.4" r="10.6" fill="url(#gH)"/><circle cx="1252.6" cy="572.4" r="10.6" fill="#fff" fill-opacity="0.20"/>
<rect transform="translate(1333.0 456.1) rotate(1.6)" x="0" y="-5.9" width="29.7" height="11.8" fill="url(#gb45)"/>
<rect transform="translate(1370.7 495.2) rotate(-90.2)" x="0" y="-5.9" width="30.1" height="11.8" fill="url(#gb45)"/>
<rect transform="translate(1273.9 438.7) rotate(35.7)" x="0" y="-5.9" width="21.3" height="11.8" fill="url(#gb37)"/>
<rect transform="translate(1374.5 537.4) rotate(56.6)" x="0" y="-5.9" width="20.7" height="11.8" fill="url(#gb52)"/>
<circle cx="1370.6" cy="457.2" r="10.6" fill="url(#gH)"/><circle cx="1370.6" cy="457.2" r="10.6" fill="#fff" fill-opacity="0.19"/>
<rect transform="translate(1229.8 556.0) rotate(35.7)" x="0" y="-5.9" width="21.3" height="11.8" fill="url(#gb27)"/>
<rect transform="translate(1256.3 577.9) rotate(56.6)" x="0" y="-5.9" width="20.7" height="11.8" fill="url(#gb33)"/>
<rect transform="translate(1257.6 427.0) rotate(35.7)" x="0" y="-5.9" width="21.3" height="11.8" fill="url(#gb37)"/>
<rect transform="translate(1385.3 553.8) rotate(56.6)" x="0" y="-5.9" width="20.7" height="11.8" fill="url(#gb52)"/>
<rect transform="translate(1374.2 453.5) rotate(-45.7)" x="0" y="-5.9" width="16.2" height="11.8" fill="url(#gb54)"/>
<rect transform="translate(1213.5 544.3) rotate(35.7)" x="0" y="-5.9" width="21.3" height="11.8" fill="url(#gb27)"/>
<rect transform="translate(1267.1 594.3) rotate(56.6)" x="0" y="-5.9" width="20.7" height="11.8" fill="url(#gb33)"/>
<circle cx="1252.1" cy="423.0" r="10.6" fill="url(#gH)"/><circle cx="1252.1" cy="423.0" r="10.6" fill="#fff" fill-opacity="0.17"/>
<circle cx="1400.4" cy="576.6" r="10.6" fill="url(#gH)"/><circle cx="1400.4" cy="576.6" r="10.6" fill="#fff" fill-opacity="0.17"/>
<rect transform="translate(1229.4 444.8) rotate(-43.8)" x="0" y="-5.9" width="23.8" height="11.8" fill="url(#gb31)"/>
<circle cx="1208.0" cy="540.3" r="10.6" fill="url(#gH)"/><circle cx="1208.0" cy="540.3" r="10.6" fill="#fff" fill-opacity="0.17"/>
<rect transform="translate(1377.7 598.4) rotate(-43.8)" x="0" y="-5.9" width="23.8" height="11.8" fill="url(#gb26)"/>
<circle cx="1282.1" cy="617.1" r="10.6" fill="url(#gH)"/><circle cx="1282.1" cy="617.1" r="10.6" fill="#fff" fill-opacity="0.16"/>
<rect transform="translate(1208.0 532.3) rotate(-90.2)" x="0" y="-5.9" width="30.1" height="11.8" fill="url(#gb26)"/>
<rect transform="translate(1384.9 442.5) rotate(-45.7)" x="0" y="-5.9" width="16.2" height="11.8" fill="url(#gb54)"/>
<rect transform="translate(1213.2 460.3) rotate(-43.8)" x="0" y="-5.9" width="23.8" height="11.8" fill="url(#gb31)"/>
<rect transform="translate(1255.7 419.3) rotate(-45.7)" x="0" y="-5.9" width="16.2" height="11.8" fill="url(#gb38)"/>
<rect transform="translate(1290.1 617.3) rotate(1.6)" x="0" y="-5.9" width="29.7" height="11.8" fill="url(#gb41)"/>
<rect transform="translate(1207.9 503.6) rotate(-90.2)" x="0" y="-5.9" width="30.1" height="11.8" fill="url(#gb26)"/>
<rect transform="translate(1361.5 613.9) rotate(-43.8)" x="0" y="-5.9" width="23.8" height="11.8" fill="url(#gb26)"/>
<rect transform="translate(1404.0 572.9) rotate(-45.7)" x="0" y="-5.9" width="16.2" height="11.8" fill="url(#gb58)"/>
<rect transform="translate(1318.4 618.1) rotate(1.6)" x="0" y="-5.9" width="29.7" height="11.8" fill="url(#gb41)"/>
<circle cx="1207.7" cy="465.6" r="10.6" fill="url(#gH)"/><circle cx="1207.7" cy="465.6" r="10.6" fill="#fff" fill-opacity="0.15"/>
<circle cx="1356.0" cy="619.2" r="10.6" fill="url(#gH)"/><circle cx="1356.0" cy="619.2" r="10.6" fill="#fff" fill-opacity="0.15"/>
<circle cx="1399.8" cy="427.2" r="10.6" fill="url(#gH)"/><circle cx="1399.8" cy="427.2" r="10.6" fill="#fff" fill-opacity="0.15"/>
<rect transform="translate(1206.4 541.7) rotate(140.2)" x="0" y="-5.9" width="7.9" height="11.8" fill="url(#gb25)"/>
<rect transform="translate(1280.5 618.5) rotate(140.2)" x="0" y="-5.9" width="7.9" height="11.8" fill="url(#gb40)"/>
<rect transform="translate(1266.4 408.3) rotate(-45.7)" x="0" y="-5.9" width="16.2" height="11.8" fill="url(#gb38)"/>
<rect transform="translate(1414.7 561.9) rotate(-45.7)" x="0" y="-5.9" width="16.2" height="11.8" fill="url(#gb58)"/>
<rect transform="translate(1377.0 410.8) rotate(35.7)" x="0" y="-5.9" width="21.3" height="11.8" fill="url(#gb56)"/>
<rect transform="translate(1403.5 432.7) rotate(56.6)" x="0" y="-5.9" width="20.7" height="11.8" fill="url(#gb59)"/>
<rect transform="translate(1206.1 467.0) rotate(140.2)" x="0" y="-5.9" width="7.9" height="11.8" fill="url(#gb30)"/>
<rect transform="translate(1354.4 620.6) rotate(140.2)" x="0" y="-5.9" width="7.9" height="11.8" fill="url(#gb50)"/>
<circle cx="1281.3" cy="393.0" r="10.6" fill="url(#gH)"/><circle cx="1281.3" cy="393.0" r="10.6" fill="#fff" fill-opacity="0.13"/>
<rect transform="translate(1360.7 399.1) rotate(35.7)" x="0" y="-5.9" width="21.3" height="11.8" fill="url(#gb56)"/>
<circle cx="1429.6" cy="546.6" r="10.6" fill="url(#gH)"/><circle cx="1429.6" cy="546.6" r="10.6" fill="#fff" fill-opacity="0.13"/>
<rect transform="translate(1289.3 393.2) rotate(1.6)" x="0" y="-5.9" width="29.7" height="11.8" fill="url(#gb48)"/>
<rect transform="translate(1414.3 449.1) rotate(56.6)" x="0" y="-5.9" width="20.7" height="11.8" fill="url(#gb59)"/>
<rect transform="translate(1429.6 538.6) rotate(-90.2)" x="0" y="-5.9" width="30.1" height="11.8" fill="url(#gb48)"/>
<rect transform="translate(1200.6 546.5) rotate(140.2)" x="0" y="-5.9" width="7.9" height="11.8" fill="url(#gb25)"/>
<rect transform="translate(1317.6 394.0) rotate(1.6)" x="0" y="-5.9" width="29.7" height="11.8" fill="url(#gb48)"/>
<rect transform="translate(1274.7 623.3) rotate(140.2)" x="0" y="-5.9" width="7.9" height="11.8" fill="url(#gb40)"/>
<rect transform="translate(1429.5 509.9) rotate(-90.2)" x="0" y="-5.9" width="30.1" height="11.8" fill="url(#gb48)"/>
<circle cx="1355.2" cy="395.1" r="10.6" fill="url(#gH)"/><circle cx="1355.2" cy="395.1" r="10.6" fill="#fff" fill-opacity="0.12"/>
<circle cx="1429.3" cy="471.9" r="10.6" fill="url(#gH)"/><circle cx="1429.3" cy="471.9" r="10.6" fill="#fff" fill-opacity="0.12"/>
<rect transform="translate(1279.7 394.4) rotate(140.2)" x="0" y="-5.9" width="7.9" height="11.8" fill="url(#gb47)"/>
<rect transform="translate(1200.3 471.8) rotate(140.2)" x="0" y="-5.9" width="7.9" height="11.8" fill="url(#gb30)"/>
<circle cx="1311.1" cy="512.4" r="47.6" fill="url(#gCeB)"/><circle cx="1311.1" cy="512.4" r="47.6" fill="#fff" fill-opacity="0.11"/>
<rect transform="translate(1428.0 548.0) rotate(140.2)" x="0" y="-5.9" width="7.9" height="11.8" fill="url(#gb61)"/>
<rect transform="translate(1348.6 625.4) rotate(140.2)" x="0" y="-5.9" width="7.9" height="11.8" fill="url(#gb50)"/>
<circle cx="1192.9" cy="552.9" r="10.6" fill="url(#gH)"/><circle cx="1192.9" cy="552.9" r="10.6" fill="#fff" fill-opacity="0.10"/>
<circle cx="1267.0" cy="629.7" r="10.6" fill="url(#gH)"/><circle cx="1267.0" cy="629.7" r="10.6" fill="#fff" fill-opacity="0.10"/>
<rect transform="translate(1192.8 544.9) rotate(-90.2)" x="0" y="-5.9" width="30.1" height="11.8" fill="url(#gb28)"/>
<rect transform="translate(1353.6 396.5) rotate(140.2)" x="0" y="-5.9" width="7.9" height="11.8" fill="url(#gb55)"/>
<rect transform="translate(1274.9 629.9) rotate(1.6)" x="0" y="-5.9" width="29.7" height="11.8" fill="url(#gb42)"/>
<rect transform="translate(1427.7 473.3) rotate(140.2)" x="0" y="-5.9" width="7.9" height="11.8" fill="url(#gb62)"/>
<rect transform="translate(1192.7 516.2) rotate(-90.2)" x="0" y="-5.9" width="30.1" height="11.8" fill="url(#gb28)"/>
<rect transform="translate(1196.5 558.4) rotate(56.6)" x="0" y="-5.9" width="20.7" height="11.8" fill="url(#gb29)"/>
<rect transform="translate(1303.3 630.7) rotate(1.6)" x="0" y="-5.9" width="29.7" height="11.8" fill="url(#gb42)"/>
<circle cx="1192.6" cy="478.2" r="10.6" fill="url(#gH)"/><circle cx="1192.6" cy="478.2" r="10.6" fill="#fff" fill-opacity="0.09"/>
<rect transform="translate(1244.2 613.3) rotate(35.7)" x="0" y="-5.9" width="21.3" height="11.8" fill="url(#gb35)"/>
<circle cx="1340.9" cy="631.8" r="10.6" fill="url(#gH)"/><circle cx="1340.9" cy="631.8" r="10.6" fill="#fff" fill-opacity="0.09"/>
<rect transform="translate(1273.9 399.2) rotate(140.2)" x="0" y="-5.9" width="7.9" height="11.8" fill="url(#gb47)"/>
<rect transform="translate(1422.2 552.8) rotate(140.2)" x="0" y="-5.9" width="7.9" height="11.8" fill="url(#gb61)"/>
<rect transform="translate(1207.3 574.8) rotate(56.6)" x="0" y="-5.9" width="20.7" height="11.8" fill="url(#gb29)"/>
<rect transform="translate(1227.9 601.6) rotate(35.7)" x="0" y="-5.9" width="21.3" height="11.8" fill="url(#gb35)"/>
<rect transform="translate(1196.2 474.5) rotate(-45.7)" x="0" y="-5.9" width="16.2" height="11.8" fill="url(#gb32)"/>
<rect transform="translate(1344.5 628.1) rotate(-45.7)" x="0" y="-5.9" width="16.2" height="11.8" fill="url(#gb51)"/>
<rect transform="translate(1347.8 401.3) rotate(140.2)" x="0" y="-5.9" width="7.9" height="11.8" fill="url(#gb55)"/>
<rect transform="translate(1421.9 478.1) rotate(140.2)" x="0" y="-5.9" width="7.9" height="11.8" fill="url(#gb62)"/>
<circle cx="1222.4" cy="597.6" r="10.6" fill="url(#gH)"/><circle cx="1222.4" cy="597.6" r="10.6" fill="#fff" fill-opacity="0.07"/>
<circle cx="1266.2" cy="405.6" r="10.6" fill="url(#gH)"/><circle cx="1266.2" cy="405.6" r="10.6" fill="#fff" fill-opacity="0.07"/>
<circle cx="1414.5" cy="559.2" r="10.6" fill="url(#gH)"/><circle cx="1414.5" cy="559.2" r="10.6" fill="#fff" fill-opacity="0.07"/>
<rect transform="translate(1274.1 405.8) rotate(1.6)" x="0" y="-5.9" width="29.7" height="11.8" fill="url(#gb49)"/>
<rect transform="translate(1206.9 463.5) rotate(-45.7)" x="0" y="-5.9" width="16.2" height="11.8" fill="url(#gb32)"/>
<rect transform="translate(1243.5 427.4) rotate(-43.8)" x="0" y="-5.9" width="23.8" height="11.8" fill="url(#gb15)"/>
<rect transform="translate(1414.5 551.2) rotate(-90.2)" x="0" y="-5.9" width="30.1" height="11.8" fill="url(#gb15)"/>
<rect transform="translate(1302.5 406.6) rotate(1.6)" x="0" y="-5.9" width="29.7" height="11.8" fill="url(#gb49)"/>
<rect transform="translate(1355.2 617.1) rotate(-45.7)" x="0" y="-5.9" width="16.2" height="11.8" fill="url(#gb51)"/>
<rect transform="translate(1391.8 581.0) rotate(-43.8)" x="0" y="-5.9" width="23.8" height="11.8" fill="url(#gb9)"/>
<rect transform="translate(1226.0 593.9) rotate(-45.7)" x="0" y="-5.9" width="16.2" height="11.8" fill="url(#gb36)"/>
<rect transform="translate(1414.4 522.5) rotate(-90.2)" x="0" y="-5.9" width="30.1" height="11.8" fill="url(#gb15)"/>
<circle cx="1340.1" cy="407.7" r="10.6" fill="url(#gH)"/><circle cx="1340.1" cy="407.7" r="10.6" fill="#fff" fill-opacity="0.06"/>
<rect transform="translate(1227.3 442.9) rotate(-43.8)" x="0" y="-5.9" width="23.8" height="11.8" fill="url(#gb15)"/>
<circle cx="1414.2" cy="484.5" r="10.6" fill="url(#gH)"/><circle cx="1414.2" cy="484.5" r="10.6" fill="#fff" fill-opacity="0.05"/>
<rect transform="translate(1375.6 596.5) rotate(-43.8)" x="0" y="-5.9" width="23.8" height="11.8" fill="url(#gb9)"/>
<circle cx="1221.8" cy="448.2" r="10.6" fill="url(#gH)"/><circle cx="1221.8" cy="448.2" r="10.6" fill="#fff" fill-opacity="0.05"/>
<circle cx="1370.1" cy="601.8" r="10.6" fill="url(#gH)"/><circle cx="1370.1" cy="601.8" r="10.6" fill="#fff" fill-opacity="0.05"/>
<rect transform="translate(1343.7 413.2) rotate(56.6)" x="0" y="-5.9" width="20.7" height="11.8" fill="url(#gb57)"/>
<rect transform="translate(1391.4 468.1) rotate(35.7)" x="0" y="-5.9" width="21.3" height="11.8" fill="url(#gb60)"/>
<rect transform="translate(1236.7 582.9) rotate(-45.7)" x="0" y="-5.9" width="16.2" height="11.8" fill="url(#gb36)"/>
<rect transform="translate(1225.5 453.7) rotate(56.6)" x="0" y="-5.9" width="20.7" height="11.8" fill="url(#gb39)"/>
<rect transform="translate(1347.3 585.4) rotate(35.7)" x="0" y="-5.9" width="21.3" height="11.8" fill="url(#gb53)"/>
<rect transform="translate(1354.5 429.6) rotate(56.6)" x="0" y="-5.9" width="20.7" height="11.8" fill="url(#gb57)"/>
<rect transform="translate(1375.1 456.4) rotate(35.7)" x="0" y="-5.9" width="21.3" height="11.8" fill="url(#gb60)"/>
<circle cx="1251.6" cy="567.6" r="10.6" fill="url(#gH)"/><circle cx="1251.6" cy="567.6" r="10.6" fill="#fff" fill-opacity="0.03"/>
<rect transform="translate(1236.3 470.1) rotate(56.6)" x="0" y="-5.9" width="20.7" height="11.8" fill="url(#gb39)"/>
<rect transform="translate(1331.0 573.7) rotate(35.7)" x="0" y="-5.9" width="21.3" height="11.8" fill="url(#gb53)"/>
<rect transform="translate(1251.6 559.6) rotate(-90.2)" x="0" y="-5.9" width="30.1" height="11.8" fill="url(#gb20)"/>
<rect transform="translate(1259.5 567.8) rotate(1.6)" x="0" y="-5.9" width="29.7" height="11.8" fill="url(#gb20)"/>
<circle cx="1369.6" cy="452.4" r="10.6" fill="url(#gH)"/><circle cx="1369.6" cy="452.4" r="10.6" fill="#fff" fill-opacity="0.02"/>
<rect transform="translate(1251.5 530.9) rotate(-90.2)" x="0" y="-5.9" width="30.1" height="11.8" fill="url(#gb20)"/>
<rect transform="translate(1287.9 568.6) rotate(1.6)" x="0" y="-5.9" width="29.7" height="11.8" fill="url(#gb20)"/>
<rect transform="translate(1346.9 474.2) rotate(-43.8)" x="0" y="-5.9" width="23.8" height="11.8" fill="url(#gb8)"/>
<circle cx="1251.3" cy="492.9" r="10.6" fill="url(#gH)"/><circle cx="1251.3" cy="492.9" r="10.6" fill="#fff" fill-opacity="0.02"/>
<circle cx="1325.5" cy="569.7" r="10.6" fill="url(#gH)"/><circle cx="1325.5" cy="569.7" r="10.6" fill="#fff" fill-opacity="0.02"/>
<rect transform="translate(1259.3 493.1) rotate(1.6)" x="0" y="-5.9" width="29.7" height="11.8" fill="url(#gb46)"/>
<rect transform="translate(1325.5 561.7) rotate(-90.2)" x="0" y="-5.9" width="30.1" height="11.8" fill="url(#gb46)"/>
<rect transform="translate(1330.7 489.7) rotate(-43.8)" x="0" y="-5.9" width="23.8" height="11.8" fill="url(#gb8)"/>
<rect transform="translate(1287.6 493.9) rotate(1.6)" x="0" y="-5.9" width="29.7" height="11.8" fill="url(#gb46)"/>
<rect transform="translate(1325.4 533.0) rotate(-90.2)" x="0" y="-5.9" width="30.1" height="11.8" fill="url(#gb46)"/>
<circle cx="1325.2" cy="495.0" r="10.6" fill="url(#gH)"/></g>
</svg>
</body></html>
